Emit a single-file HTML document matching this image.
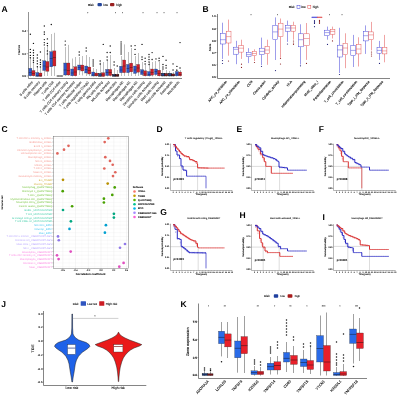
<!DOCTYPE html>
<html><head><meta charset="utf-8"><style>
html,body{margin:0;padding:0;background:#fff;width:400px;height:398px;overflow:hidden}
svg{display:block;will-change:transform}
text{font-family:"Liberation Sans", sans-serif;text-rendering:geometricPrecision}
</style></head><body>
<svg width="400" height="398" viewBox="0 0 400 398">
<rect width="400" height="398" fill="#fff"/>
<text x="1.6" y="11.6" font-size="8.5" fill="#000" font-weight="bold">A</text>
<line x1="28.5" y1="12" x2="28.5" y2="78.5" stroke="#777" stroke-width="0.8" />
<line x1="28.5" y1="78.5" x2="182" y2="78.5" stroke="#666" stroke-width="0.8" />
<line x1="26.6" y1="30.9" x2="28" y2="30.9" stroke="#555" stroke-width="0.45" />
<text x="25.9" y="31.9" font-size="2.7" fill="#000" text-anchor="end" font-weight="normal" stroke="#000" stroke-width="0.1">0.4</text>
<line x1="26.6" y1="53.7" x2="28" y2="53.7" stroke="#555" stroke-width="0.45" />
<text x="25.9" y="54.7" font-size="2.7" fill="#000" text-anchor="end" font-weight="normal" stroke="#000" stroke-width="0.1">0.2</text>
<line x1="26.6" y1="76.0" x2="28" y2="76.0" stroke="#555" stroke-width="0.45" />
<text x="25.9" y="77.0" font-size="2.7" fill="#000" text-anchor="end" font-weight="normal" stroke="#000" stroke-width="0.1">0.0</text>
<text x="19.6" y="50" font-size="2.8" fill="#000" text-anchor="middle" font-weight="normal" transform="rotate(-90 19.6 50)" stroke="#000" stroke-width="0.08">Fraction</text>
<text x="88" y="5.6" font-size="3" fill="#111" text-anchor="start" font-weight="normal"  stroke="#111" stroke-width="0.1">Risk</text>
<rect x="97.5" y="3.0" width="4.4" height="3.2" fill="#24459a" stroke="none" stroke-width="0.5" rx="1"/>
<text x="103.5" y="5.6" font-size="3" fill="#111" text-anchor="start" font-weight="normal"  stroke="#111" stroke-width="0.1">low</text>
<rect x="110" y="3.0" width="4.4" height="3.2" fill="#9a2020" stroke="none" stroke-width="0.5" rx="1"/>
<text x="116.3" y="5.6" font-size="3" fill="#111" text-anchor="start" font-weight="normal"  stroke="#111" stroke-width="0.1">high</text>
<line x1="30.5" y1="58" x2="30.5" y2="76.5" stroke="#a8a8a8" stroke-width="0.75" />
<rect x="28.799999999999997" y="68.3" width="3.1" height="7.5" fill="#2e55c8" stroke="#333" stroke-width="0.25" />
<line x1="28.799999999999997" y1="72.5" x2="31.9" y2="72.5" stroke="#111" stroke-width="0.35" />
<circle cx="30.349999999999998" cy="34.3" r="0.7" fill="#111"/>
<circle cx="30.349999999999998" cy="49.4" r="0.7" fill="#111"/>
<circle cx="30.349999999999998" cy="52.4" r="0.7" fill="#111"/>
<circle cx="30.349999999999998" cy="55.4" r="0.7" fill="#111"/>
<circle cx="30.349999999999998" cy="57.7" r="0.7" fill="#111"/>
<line x1="33.5" y1="62" x2="33.5" y2="76.5" stroke="#a8a8a8" stroke-width="0.75" />
<rect x="31.9" y="70.5" width="3.1" height="5.299999999999997" fill="#d11f2a" stroke="#333" stroke-width="0.25" />
<line x1="31.9" y1="73.5" x2="35.0" y2="73.5" stroke="#111" stroke-width="0.35" />
<circle cx="33.449999999999996" cy="43.4" r="0.7" fill="#111"/>
<circle cx="33.449999999999996" cy="50.2" r="0.7" fill="#111"/>
<circle cx="33.449999999999996" cy="52.8" r="0.7" fill="#111"/>
<circle cx="33.449999999999996" cy="55.4" r="0.7" fill="#111"/>
<circle cx="33.449999999999996" cy="58" r="0.7" fill="#111"/>
<circle cx="33.449999999999996" cy="60.2" r="0.7" fill="#111"/>
<circle cx="33.449999999999996" cy="62.2" r="0.7" fill="#111"/>
<text x="33.1" y="82.3" font-size="3.3" fill="#3a3a3a" text-anchor="end" font-weight="normal" transform="rotate(-49 33.1 82.3)"  stroke="#3a3a3a" stroke-width="0.1">B cells naive</text>
<line x1="37.5" y1="66" x2="37.5" y2="76.8" stroke="#a8a8a8" stroke-width="0.75" />
<rect x="35.779999999999994" y="72.5" width="3.1" height="4.0" fill="#2e55c8" stroke="#333" stroke-width="0.25" />
<line x1="35.779999999999994" y1="75.5" x2="38.879999999999995" y2="75.5" stroke="#111" stroke-width="0.35" />
<circle cx="37.32999999999999" cy="55" r="0.7" fill="#111"/>
<circle cx="37.32999999999999" cy="58" r="0.7" fill="#111"/>
<circle cx="37.32999999999999" cy="61" r="0.7" fill="#111"/>
<circle cx="37.32999999999999" cy="63.7" r="0.7" fill="#111"/>
<circle cx="37.32999999999999" cy="66.8" r="0.7" fill="#111"/>
<line x1="40.5" y1="68" x2="40.5" y2="76.8" stroke="#a8a8a8" stroke-width="0.75" />
<rect x="38.879999999999995" y="73" width="3.1" height="3.5" fill="#d11f2a" stroke="#333" stroke-width="0.25" />
<line x1="38.879999999999995" y1="75.5" x2="41.98" y2="75.5" stroke="#111" stroke-width="0.35" />
<circle cx="40.42999999999999" cy="52" r="0.7" fill="#111"/>
<circle cx="40.42999999999999" cy="60" r="0.7" fill="#111"/>
<circle cx="40.42999999999999" cy="62.5" r="0.7" fill="#111"/>
<circle cx="40.42999999999999" cy="64.5" r="0.7" fill="#111"/>
<circle cx="40.42999999999999" cy="67" r="0.7" fill="#111"/>
<text x="40.08" y="82.3" font-size="3.3" fill="#3a3a3a" text-anchor="end" font-weight="normal" transform="rotate(-49 40.08 82.3)"  stroke="#3a3a3a" stroke-width="0.1">B cells memory</text>
<line x1="44.5" y1="47" x2="44.5" y2="76" stroke="#a8a8a8" stroke-width="0.75" />
<rect x="42.76" y="60.7" width="3.1" height="9.799999999999997" fill="#2e55c8" stroke="#333" stroke-width="0.25" />
<line x1="42.76" y1="66" x2="45.86" y2="66" stroke="#111" stroke-width="0.35" />
<circle cx="44.309999999999995" cy="26" r="0.7" fill="#111"/>
<circle cx="44.309999999999995" cy="32" r="0.7" fill="#111"/>
<circle cx="44.309999999999995" cy="34.3" r="0.7" fill="#111"/>
<circle cx="44.309999999999995" cy="39.6" r="0.7" fill="#111"/>
<circle cx="44.309999999999995" cy="42.6" r="0.7" fill="#111"/>
<circle cx="44.309999999999995" cy="44.9" r="0.7" fill="#111"/>
<line x1="47.5" y1="45.6" x2="47.5" y2="76" stroke="#a8a8a8" stroke-width="0.75" />
<rect x="45.86" y="61.5" width="3.1" height="9.799999999999997" fill="#d11f2a" stroke="#333" stroke-width="0.25" />
<line x1="45.86" y1="67" x2="48.96" y2="67" stroke="#111" stroke-width="0.35" />
<circle cx="47.41" cy="38.9" r="0.7" fill="#111"/>
<circle cx="47.41" cy="43.4" r="0.7" fill="#111"/>
<circle cx="47.41" cy="45.6" r="0.7" fill="#111"/>
<circle cx="47.41" cy="50.9" r="0.7" fill="#111"/>
<circle cx="47.41" cy="53.9" r="0.7" fill="#111"/>
<text x="47.06" y="82.3" font-size="3.3" fill="#3a3a3a" text-anchor="end" font-weight="normal" transform="rotate(-49 47.06 82.3)"  stroke="#3a3a3a" stroke-width="0.1">Plasma cells</text>
<line x1="51.5" y1="34" x2="51.5" y2="76" stroke="#a8a8a8" stroke-width="0.75" />
<rect x="49.74" y="51.7" width="3.1" height="15.099999999999994" fill="#2e55c8" stroke="#333" stroke-width="0.25" />
<line x1="49.74" y1="58.5" x2="52.84" y2="58.5" stroke="#111" stroke-width="0.35" />
<circle cx="51.29" cy="24.5" r="0.7" fill="#111"/>
<line x1="54.5" y1="32.8" x2="54.5" y2="76" stroke="#a8a8a8" stroke-width="0.75" />
<rect x="52.84" y="50.9" width="3.1" height="15.100000000000001" fill="#d11f2a" stroke="#333" stroke-width="0.25" />
<line x1="52.84" y1="57.5" x2="55.940000000000005" y2="57.5" stroke="#111" stroke-width="0.35" />
<text x="54.040000000000006" y="82.3" font-size="3.3" fill="#3a3a3a" text-anchor="end" font-weight="normal" transform="rotate(-49 54.040000000000006 82.3)"  stroke="#3a3a3a" stroke-width="0.1">T cells CD8</text>
<line x1="58.5" y1="75.8" x2="58.5" y2="76.2" stroke="#a8a8a8" stroke-width="0.75" />
<line x1="56.72" y1="76" x2="59.82" y2="76" stroke="#111" stroke-width="0.9" />
<line x1="61.5" y1="75.8" x2="61.5" y2="76.2" stroke="#a8a8a8" stroke-width="0.75" />
<line x1="59.82" y1="76" x2="62.92" y2="76" stroke="#111" stroke-width="0.9" />
<text x="61.02" y="82.3" font-size="3.3" fill="#3a3a3a" text-anchor="end" font-weight="normal" transform="rotate(-49 61.02 82.3)"  stroke="#3a3a3a" stroke-width="0.1">T cells CD4 naive</text>
<line x1="65.5" y1="47" x2="65.5" y2="76" stroke="#a8a8a8" stroke-width="0.75" />
<rect x="63.70000000000001" y="63" width="3.1" height="12" fill="#2e55c8" stroke="#333" stroke-width="0.25" />
<line x1="63.70000000000001" y1="70" x2="66.80000000000001" y2="70" stroke="#111" stroke-width="0.35" />
<circle cx="65.25000000000001" cy="41.1" r="0.7" fill="#111"/>
<circle cx="65.25000000000001" cy="44.9" r="0.7" fill="#111"/>
<line x1="68.5" y1="44.9" x2="68.5" y2="76" stroke="#a8a8a8" stroke-width="0.75" />
<rect x="66.80000000000001" y="63" width="3.1" height="12" fill="#d11f2a" stroke="#333" stroke-width="0.25" />
<line x1="66.80000000000001" y1="70.5" x2="69.9" y2="70.5" stroke="#111" stroke-width="0.35" />
<text x="68.00000000000001" y="82.3" font-size="3.3" fill="#3a3a3a" text-anchor="end" font-weight="normal" transform="rotate(-49 68.00000000000001 82.3)"  stroke="#3a3a3a" stroke-width="0.1">T cells CD4 memory resting</text>
<line x1="72.5" y1="58.5" x2="72.5" y2="76.5" stroke="#a8a8a8" stroke-width="0.75" />
<rect x="70.68" y="69" width="3.1" height="6.799999999999997" fill="#2e55c8" stroke="#333" stroke-width="0.25" />
<line x1="70.68" y1="73" x2="73.78" y2="73" stroke="#111" stroke-width="0.35" />
<line x1="75.5" y1="57" x2="75.5" y2="76.5" stroke="#a8a8a8" stroke-width="0.75" />
<rect x="73.78" y="66.8" width="3.1" height="9.0" fill="#d11f2a" stroke="#333" stroke-width="0.25" />
<line x1="73.78" y1="72" x2="76.88" y2="72" stroke="#111" stroke-width="0.35" />
<text x="74.98" y="82.3" font-size="3.3" fill="#3a3a3a" text-anchor="end" font-weight="normal" transform="rotate(-49 74.98 82.3)"  stroke="#3a3a3a" stroke-width="0.1">T cells CD4 memory activated</text>
<line x1="79.5" y1="57" x2="79.5" y2="75" stroke="#a8a8a8" stroke-width="0.75" />
<rect x="77.66" y="65" width="3.1" height="5" fill="#2e55c8" stroke="#333" stroke-width="0.25" />
<line x1="77.66" y1="67.5" x2="80.75999999999999" y2="67.5" stroke="#111" stroke-width="0.35" />
<circle cx="79.21" cy="52" r="0.7" fill="#111"/>
<circle cx="79.21" cy="55" r="0.7" fill="#111"/>
<line x1="82.5" y1="56" x2="82.5" y2="75.5" stroke="#a8a8a8" stroke-width="0.75" />
<rect x="80.75999999999999" y="65" width="3.1" height="6" fill="#d11f2a" stroke="#333" stroke-width="0.25" />
<line x1="80.75999999999999" y1="68" x2="83.85999999999999" y2="68" stroke="#111" stroke-width="0.35" />
<text x="81.96" y="82.3" font-size="3.3" fill="#3a3a3a" text-anchor="end" font-weight="normal" transform="rotate(-49 81.96 82.3)"  stroke="#3a3a3a" stroke-width="0.1">T cells follicular helper</text>
<line x1="86.5" y1="55" x2="86.5" y2="76" stroke="#a8a8a8" stroke-width="0.75" />
<rect x="84.64000000000001" y="66" width="3.1" height="7" fill="#2e55c8" stroke="#333" stroke-width="0.25" />
<line x1="84.64000000000001" y1="69.5" x2="87.74000000000001" y2="69.5" stroke="#111" stroke-width="0.35" />
<circle cx="86.19000000000001" cy="48" r="0.7" fill="#111"/>
<circle cx="86.19000000000001" cy="51" r="0.7" fill="#111"/>
<line x1="89.5" y1="57" x2="89.5" y2="76" stroke="#a8a8a8" stroke-width="0.75" />
<rect x="87.74000000000001" y="67" width="3.1" height="7" fill="#d11f2a" stroke="#333" stroke-width="0.25" />
<line x1="87.74000000000001" y1="70.5" x2="90.84" y2="70.5" stroke="#111" stroke-width="0.35" />
<text x="88.94000000000001" y="82.3" font-size="3.3" fill="#3a3a3a" text-anchor="end" font-weight="normal" transform="rotate(-49 88.94000000000001 82.3)"  stroke="#3a3a3a" stroke-width="0.1">T cells regulatory (Tregs)</text>
<line x1="93.5" y1="68" x2="93.5" y2="76.5" stroke="#a8a8a8" stroke-width="0.75" />
<rect x="91.62" y="72" width="3.1" height="4" fill="#2e55c8" stroke="#333" stroke-width="0.25" />
<line x1="91.62" y1="75" x2="94.72" y2="75" stroke="#111" stroke-width="0.35" />
<circle cx="93.17" cy="60" r="0.7" fill="#111"/>
<circle cx="93.17" cy="62" r="0.7" fill="#111"/>
<circle cx="93.17" cy="64" r="0.7" fill="#111"/>
<circle cx="93.17" cy="66" r="0.7" fill="#111"/>
<line x1="96.5" y1="69" x2="96.5" y2="76.5" stroke="#a8a8a8" stroke-width="0.75" />
<rect x="94.72" y="73" width="3.1" height="3" fill="#d11f2a" stroke="#333" stroke-width="0.25" />
<line x1="94.72" y1="75" x2="97.82" y2="75" stroke="#111" stroke-width="0.35" />
<text x="95.92" y="82.3" font-size="3.3" fill="#3a3a3a" text-anchor="end" font-weight="normal" transform="rotate(-49 95.92 82.3)"  stroke="#3a3a3a" stroke-width="0.1">T cells gamma delta</text>
<line x1="100.5" y1="62.5" x2="100.5" y2="76.5" stroke="#a8a8a8" stroke-width="0.75" />
<rect x="98.60000000000002" y="73.7" width="3.1" height="2.5" fill="#2e55c8" stroke="#111" stroke-width="0.55" />
<line x1="98.60000000000002" y1="75" x2="101.70000000000002" y2="75" stroke="#111" stroke-width="0.6" />
<circle cx="100.15000000000002" cy="61" r="0.7" fill="#111"/>
<circle cx="100.15000000000002" cy="64" r="0.7" fill="#111"/>
<line x1="103.5" y1="62" x2="103.5" y2="76.5" stroke="#a8a8a8" stroke-width="0.75" />
<rect x="101.70000000000002" y="72.7" width="3.1" height="3.799999999999997" fill="#d11f2a" stroke="#333" stroke-width="0.25" />
<line x1="101.70000000000002" y1="75" x2="104.80000000000001" y2="75" stroke="#111" stroke-width="0.35" />
<circle cx="103.25000000000001" cy="44.4" r="0.7" fill="#111"/>
<text x="102.90000000000002" y="82.3" font-size="3.3" fill="#3a3a3a" text-anchor="end" font-weight="normal" transform="rotate(-49 102.90000000000002 82.3)"  stroke="#3a3a3a" stroke-width="0.1">NK cells resting</text>
<line x1="107.5" y1="60" x2="107.5" y2="76.5" stroke="#a8a8a8" stroke-width="0.75" />
<rect x="105.58000000000001" y="69.4" width="3.1" height="6.199999999999989" fill="#2e55c8" stroke="#333" stroke-width="0.25" />
<line x1="105.58000000000001" y1="72.5" x2="108.68" y2="72.5" stroke="#111" stroke-width="0.35" />
<circle cx="107.13000000000001" cy="52.5" r="0.7" fill="#111"/>
<circle cx="107.13000000000001" cy="57" r="0.7" fill="#111"/>
<circle cx="107.13000000000001" cy="60" r="0.7" fill="#111"/>
<line x1="110.5" y1="55" x2="110.5" y2="76.5" stroke="#a8a8a8" stroke-width="0.75" />
<rect x="108.68" y="69.4" width="3.1" height="6.199999999999989" fill="#d11f2a" stroke="#333" stroke-width="0.25" />
<line x1="108.68" y1="72.5" x2="111.78" y2="72.5" stroke="#111" stroke-width="0.35" />
<circle cx="110.23" cy="46" r="0.7" fill="#111"/>
<circle cx="110.23" cy="52.5" r="0.7" fill="#111"/>
<text x="109.88000000000001" y="82.3" font-size="3.3" fill="#3a3a3a" text-anchor="end" font-weight="normal" transform="rotate(-49 109.88000000000001 82.3)"  stroke="#3a3a3a" stroke-width="0.1">NK cells activated</text>
<line x1="114.5" y1="68" x2="114.5" y2="76.5" stroke="#a8a8a8" stroke-width="0.75" />
<rect x="112.56" y="74.4" width="3.1" height="1.7999999999999972" fill="#2e55c8" stroke="#111" stroke-width="0.55" />
<line x1="112.56" y1="75.5" x2="115.66" y2="75.5" stroke="#111" stroke-width="0.6" />
<circle cx="114.11" cy="62" r="0.7" fill="#111"/>
<circle cx="114.11" cy="65" r="0.7" fill="#111"/>
<line x1="117.5" y1="70" x2="117.5" y2="76.5" stroke="#a8a8a8" stroke-width="0.75" />
<rect x="115.66" y="74.4" width="3.1" height="1.7999999999999972" fill="#d11f2a" stroke="#111" stroke-width="0.55" />
<line x1="115.66" y1="75.5" x2="118.75999999999999" y2="75.5" stroke="#111" stroke-width="0.6" />
<circle cx="117.21" cy="66" r="0.7" fill="#111"/>
<text x="116.86" y="82.3" font-size="3.3" fill="#3a3a3a" text-anchor="end" font-weight="normal" transform="rotate(-49 116.86 82.3)"  stroke="#3a3a3a" stroke-width="0.1">Monocytes</text>
<line x1="121.5" y1="56" x2="121.5" y2="76" stroke="#a8a8a8" stroke-width="0.75" />
<rect x="119.54000000000002" y="66.2" width="3.1" height="6.5" fill="#2e55c8" stroke="#333" stroke-width="0.25" />
<line x1="119.54000000000002" y1="70" x2="122.64000000000001" y2="70" stroke="#111" stroke-width="0.35" />
<circle cx="121.09000000000002" cy="41.9" r="0.7" fill="#111"/>
<circle cx="121.09000000000002" cy="44" r="0.7" fill="#111"/>
<circle cx="121.09000000000002" cy="46" r="0.7" fill="#111"/>
<circle cx="121.09000000000002" cy="48" r="0.7" fill="#111"/>
<circle cx="121.09000000000002" cy="50" r="0.7" fill="#111"/>
<circle cx="121.09000000000002" cy="52" r="0.7" fill="#111"/>
<circle cx="121.09000000000002" cy="54" r="0.7" fill="#111"/>
<line x1="124.5" y1="44.4" x2="124.5" y2="76" stroke="#a8a8a8" stroke-width="0.75" />
<rect x="122.64000000000001" y="60" width="3.1" height="12.700000000000003" fill="#d11f2a" stroke="#333" stroke-width="0.25" />
<line x1="122.64000000000001" y1="66" x2="125.74000000000001" y2="66" stroke="#111" stroke-width="0.35" />
<text x="123.84000000000002" y="82.3" font-size="3.3" fill="#3a3a3a" text-anchor="end" font-weight="normal" transform="rotate(-49 123.84000000000002 82.3)"  stroke="#3a3a3a" stroke-width="0.1">Macrophages M0</text>
<line x1="128.5" y1="52" x2="128.5" y2="76" stroke="#a8a8a8" stroke-width="0.75" />
<rect x="126.52000000000001" y="64.4" width="3.1" height="8.299999999999997" fill="#2e55c8" stroke="#333" stroke-width="0.25" />
<line x1="126.52000000000001" y1="68.5" x2="129.62" y2="68.5" stroke="#111" stroke-width="0.35" />
<line x1="131.5" y1="48" x2="131.5" y2="76" stroke="#a8a8a8" stroke-width="0.75" />
<rect x="129.62" y="63.1" width="3.1" height="8.800000000000004" fill="#d11f2a" stroke="#333" stroke-width="0.25" />
<line x1="129.62" y1="67.5" x2="132.72" y2="67.5" stroke="#111" stroke-width="0.35" />
<circle cx="131.17000000000002" cy="46" r="0.7" fill="#111"/>
<text x="130.82" y="82.3" font-size="3.3" fill="#3a3a3a" text-anchor="end" font-weight="normal" transform="rotate(-49 130.82 82.3)"  stroke="#3a3a3a" stroke-width="0.1">Macrophages M1</text>
<line x1="135.5" y1="56" x2="135.5" y2="76" stroke="#a8a8a8" stroke-width="0.75" />
<rect x="133.5" y="66" width="3.1" height="7.5" fill="#2e55c8" stroke="#333" stroke-width="0.25" />
<line x1="133.5" y1="70" x2="136.6" y2="70" stroke="#111" stroke-width="0.35" />
<circle cx="135.05" cy="45.6" r="0.7" fill="#111"/>
<circle cx="135.05" cy="49.4" r="0.7" fill="#111"/>
<circle cx="135.05" cy="54.4" r="0.7" fill="#111"/>
<line x1="138.5" y1="53" x2="138.5" y2="76" stroke="#a8a8a8" stroke-width="0.75" />
<rect x="136.6" y="64.4" width="3.1" height="7.799999999999997" fill="#d11f2a" stroke="#333" stroke-width="0.25" />
<line x1="136.6" y1="68" x2="139.7" y2="68" stroke="#111" stroke-width="0.35" />
<text x="137.79999999999998" y="82.3" font-size="3.3" fill="#3a3a3a" text-anchor="end" font-weight="normal" transform="rotate(-49 137.79999999999998 82.3)"  stroke="#3a3a3a" stroke-width="0.1">Macrophages M2</text>
<line x1="142.5" y1="62" x2="142.5" y2="76" stroke="#a8a8a8" stroke-width="0.75" />
<rect x="140.48000000000002" y="69.6" width="3.1" height="5.0" fill="#2e55c8" stroke="#333" stroke-width="0.25" />
<line x1="140.48000000000002" y1="72" x2="143.58" y2="72" stroke="#111" stroke-width="0.35" />
<circle cx="142.03000000000003" cy="44.4" r="0.7" fill="#111"/>
<circle cx="142.03000000000003" cy="57" r="0.7" fill="#111"/>
<circle cx="142.03000000000003" cy="59.5" r="0.7" fill="#111"/>
<line x1="145.5" y1="65" x2="145.5" y2="76.5" stroke="#a8a8a8" stroke-width="0.75" />
<rect x="143.58" y="70.8" width="3.1" height="5.1000000000000085" fill="#d11f2a" stroke="#333" stroke-width="0.25" />
<line x1="143.58" y1="74" x2="146.68" y2="74" stroke="#111" stroke-width="0.35" />
<circle cx="145.13000000000002" cy="58.3" r="0.7" fill="#111"/>
<circle cx="145.13000000000002" cy="61.4" r="0.7" fill="#111"/>
<circle cx="145.13000000000002" cy="64" r="0.7" fill="#111"/>
<text x="144.78" y="82.3" font-size="3.3" fill="#3a3a3a" text-anchor="end" font-weight="normal" transform="rotate(-49 144.78 82.3)"  stroke="#3a3a3a" stroke-width="0.1">Dendritic cells resting</text>
<line x1="149.5" y1="62" x2="149.5" y2="76.5" stroke="#a8a8a8" stroke-width="0.75" />
<rect x="147.46" y="71.5" width="3.1" height="4.400000000000006" fill="#2e55c8" stroke="#333" stroke-width="0.25" />
<line x1="147.46" y1="74.5" x2="150.56" y2="74.5" stroke="#111" stroke-width="0.35" />
<circle cx="149.01000000000002" cy="54.5" r="0.7" fill="#111"/>
<circle cx="149.01000000000002" cy="57" r="0.7" fill="#111"/>
<circle cx="149.01000000000002" cy="59.5" r="0.7" fill="#111"/>
<circle cx="149.01000000000002" cy="62" r="0.7" fill="#111"/>
<circle cx="149.01000000000002" cy="64.5" r="0.7" fill="#111"/>
<line x1="152.5" y1="62" x2="152.5" y2="76.5" stroke="#a8a8a8" stroke-width="0.75" />
<rect x="150.56" y="69" width="3.1" height="6.200000000000003" fill="#d11f2a" stroke="#333" stroke-width="0.25" />
<line x1="150.56" y1="72.5" x2="153.66" y2="72.5" stroke="#111" stroke-width="0.35" />
<circle cx="152.11" cy="52.6" r="0.7" fill="#111"/>
<circle cx="152.11" cy="59.5" r="0.7" fill="#111"/>
<text x="151.76" y="82.3" font-size="3.3" fill="#3a3a3a" text-anchor="end" font-weight="normal" transform="rotate(-49 151.76 82.3)"  stroke="#3a3a3a" stroke-width="0.1">Dendritic cells activated</text>
<line x1="155.5" y1="61" x2="155.5" y2="76" stroke="#a8a8a8" stroke-width="0.75" />
<rect x="154.44000000000003" y="69" width="3.1" height="5.599999999999994" fill="#2e55c8" stroke="#333" stroke-width="0.25" />
<line x1="154.44000000000003" y1="71.5" x2="157.54000000000002" y2="71.5" stroke="#111" stroke-width="0.35" />
<circle cx="155.99000000000004" cy="58.9" r="0.7" fill="#111"/>
<line x1="159.5" y1="62" x2="159.5" y2="76.5" stroke="#a8a8a8" stroke-width="0.75" />
<rect x="157.54000000000002" y="70.2" width="3.1" height="5.700000000000003" fill="#d11f2a" stroke="#333" stroke-width="0.25" />
<line x1="157.54000000000002" y1="73.5" x2="160.64000000000001" y2="73.5" stroke="#111" stroke-width="0.35" />
<circle cx="159.09000000000003" cy="58.3" r="0.7" fill="#111"/>
<circle cx="159.09000000000003" cy="60.8" r="0.7" fill="#111"/>
<text x="158.74" y="82.3" font-size="3.3" fill="#3a3a3a" text-anchor="end" font-weight="normal" transform="rotate(-49 158.74 82.3)"  stroke="#3a3a3a" stroke-width="0.1">Mast cells resting</text>
<line x1="162.5" y1="70" x2="162.5" y2="76.5" stroke="#a8a8a8" stroke-width="0.75" />
<rect x="161.42000000000002" y="73.3" width="3.1" height="2.6000000000000085" fill="#2e55c8" stroke="#111" stroke-width="0.55" />
<line x1="161.42000000000002" y1="75" x2="164.52" y2="75" stroke="#111" stroke-width="0.6" />
<circle cx="162.97000000000003" cy="56.4" r="0.7" fill="#111"/>
<circle cx="162.97000000000003" cy="64.5" r="0.7" fill="#111"/>
<circle cx="162.97000000000003" cy="67" r="0.7" fill="#111"/>
<circle cx="162.97000000000003" cy="69" r="0.7" fill="#111"/>
<line x1="166.5" y1="70" x2="166.5" y2="76.5" stroke="#a8a8a8" stroke-width="0.75" />
<rect x="164.52" y="73.5" width="3.1" height="2.4000000000000057" fill="#d11f2a" stroke="#111" stroke-width="0.55" />
<line x1="164.52" y1="75" x2="167.62" y2="75" stroke="#111" stroke-width="0.6" />
<circle cx="166.07000000000002" cy="60.2" r="0.7" fill="#111"/>
<circle cx="166.07000000000002" cy="65.5" r="0.7" fill="#111"/>
<circle cx="166.07000000000002" cy="68" r="0.7" fill="#111"/>
<text x="165.72" y="82.3" font-size="3.3" fill="#3a3a3a" text-anchor="end" font-weight="normal" transform="rotate(-49 165.72 82.3)"  stroke="#3a3a3a" stroke-width="0.1">Mast cells activated</text>
<line x1="169.5" y1="71" x2="169.5" y2="76.5" stroke="#a8a8a8" stroke-width="0.75" />
<rect x="168.40000000000003" y="73.5" width="3.1" height="2.4000000000000057" fill="#2e55c8" stroke="#111" stroke-width="0.55" />
<line x1="168.40000000000003" y1="75" x2="171.50000000000003" y2="75" stroke="#111" stroke-width="0.6" />
<line x1="173.5" y1="72" x2="173.5" y2="76.5" stroke="#a8a8a8" stroke-width="0.75" />
<rect x="171.50000000000003" y="74" width="3.1" height="1.9000000000000057" fill="#d11f2a" stroke="#111" stroke-width="0.55" />
<line x1="171.50000000000003" y1="75.2" x2="174.60000000000002" y2="75.2" stroke="#111" stroke-width="0.6" />
<circle cx="173.05000000000004" cy="63.9" r="0.7" fill="#111"/>
<circle cx="173.05000000000004" cy="70" r="0.7" fill="#111"/>
<text x="172.70000000000002" y="82.3" font-size="3.3" fill="#3a3a3a" text-anchor="end" font-weight="normal" transform="rotate(-49 172.70000000000002 82.3)"  stroke="#3a3a3a" stroke-width="0.1">Eosinophils</text>
<line x1="176.5" y1="69" x2="176.5" y2="76.5" stroke="#a8a8a8" stroke-width="0.75" />
<rect x="175.38000000000002" y="71.5" width="3.1" height="4.400000000000006" fill="#2e55c8" stroke="#333" stroke-width="0.25" />
<line x1="175.38000000000002" y1="74" x2="178.48000000000002" y2="74" stroke="#111" stroke-width="0.35" />
<circle cx="176.93000000000004" cy="66.4" r="0.7" fill="#111"/>
<circle cx="176.93000000000004" cy="70.2" r="0.7" fill="#111"/>
<line x1="180.5" y1="70" x2="180.5" y2="76.5" stroke="#a8a8a8" stroke-width="0.75" />
<rect x="178.48000000000002" y="72" width="3.1" height="3.9000000000000057" fill="#d11f2a" stroke="#333" stroke-width="0.25" />
<line x1="178.48000000000002" y1="74.5" x2="181.58" y2="74.5" stroke="#111" stroke-width="0.35" />
<circle cx="180.03000000000003" cy="42.6" r="0.7" fill="#111"/>
<circle cx="180.03000000000003" cy="68" r="0.7" fill="#111"/>
<text x="179.68" y="82.3" font-size="3.3" fill="#3a3a3a" text-anchor="end" font-weight="normal" transform="rotate(-49 179.68 82.3)"  stroke="#3a3a3a" stroke-width="0.1">Neutrophils</text>
<text x="87.8" y="13.5" font-size="2.5" fill="#333" text-anchor="middle" font-weight="normal"  stroke="#333" stroke-width="0.1">*</text>
<text x="115.6" y="13.5" font-size="2.5" fill="#333" text-anchor="middle" font-weight="normal"  stroke="#333" stroke-width="0.1">*</text>
<text x="122.5" y="13.5" font-size="2.5" fill="#333" text-anchor="middle" font-weight="normal"  stroke="#333" stroke-width="0.1">*</text>
<text x="143" y="13.5" font-size="2.5" fill="#333" text-anchor="middle" font-weight="normal"  stroke="#333" stroke-width="0.1">*</text>
<text x="157" y="13.5" font-size="2.5" fill="#333" text-anchor="middle" font-weight="normal"  stroke="#333" stroke-width="0.1">*</text>
<text x="164" y="13.5" font-size="2.5" fill="#333" text-anchor="middle" font-weight="normal"  stroke="#333" stroke-width="0.1">*</text>
<text x="177" y="13.5" font-size="2.5" fill="#333" text-anchor="middle" font-weight="normal"  stroke="#333" stroke-width="0.1">*</text>
<text x="202.6" y="11.6" font-size="8.5" fill="#000" font-weight="bold">B</text>
<line x1="217.5" y1="14" x2="217.5" y2="78.5" stroke="#666" stroke-width="0.8" />
<line x1="217.5" y1="78.5" x2="390" y2="78.5" stroke="#666" stroke-width="0.8" />
<line x1="216.3" y1="16.4" x2="217.5" y2="16.4" stroke="#555" stroke-width="0.45" />
<text x="215.8" y="17.4" font-size="2.7" fill="#000" text-anchor="end" font-weight="normal" stroke="#000" stroke-width="0.1">1.0</text>
<line x1="216.3" y1="28.7" x2="217.5" y2="28.7" stroke="#555" stroke-width="0.45" />
<text x="215.8" y="29.7" font-size="2.7" fill="#000" text-anchor="end" font-weight="normal" stroke="#000" stroke-width="0.1">0.9</text>
<line x1="216.3" y1="40.8" x2="217.5" y2="40.8" stroke="#555" stroke-width="0.45" />
<text x="215.8" y="41.8" font-size="2.7" fill="#000" text-anchor="end" font-weight="normal" stroke="#000" stroke-width="0.1">0.8</text>
<line x1="216.3" y1="52.5" x2="217.5" y2="52.5" stroke="#555" stroke-width="0.45" />
<text x="215.8" y="53.5" font-size="2.7" fill="#000" text-anchor="end" font-weight="normal" stroke="#000" stroke-width="0.1">0.7</text>
<line x1="216.3" y1="64.8" x2="217.5" y2="64.8" stroke="#555" stroke-width="0.45" />
<text x="215.8" y="65.8" font-size="2.7" fill="#000" text-anchor="end" font-weight="normal" stroke="#000" stroke-width="0.1">0.6</text>
<line x1="216.3" y1="76.9" x2="217.5" y2="76.9" stroke="#555" stroke-width="0.45" />
<text x="215.8" y="77.9" font-size="2.7" fill="#000" text-anchor="end" font-weight="normal" stroke="#000" stroke-width="0.1">0.5</text>
<text x="210.5" y="47.5" font-size="2.9" fill="#000" text-anchor="middle" font-weight="normal" transform="rotate(-90 210.5 47.5)" stroke="#000" stroke-width="0.08">Score</text>
<text x="288.7" y="7.9" font-size="3" fill="#111" text-anchor="start" font-weight="normal"  stroke="#111" stroke-width="0.1">Risk</text>
<rect x="297" y="5.3" width="3" height="3" fill="#fff" stroke="#3b3bd6" stroke-width="0.5" />
<text x="301.2" y="7.9" font-size="3" fill="#111" text-anchor="start" font-weight="normal"  stroke="#111" stroke-width="0.1">low</text>
<rect x="307.8" y="5.3" width="3" height="3" fill="#fff" stroke="#e04848" stroke-width="0.5" />
<text x="312.7" y="7.9" font-size="3" fill="#111" text-anchor="start" font-weight="normal"  stroke="#111" stroke-width="0.1">high</text>
<line x1="222.5" y1="22.7" x2="222.5" y2="33.4" stroke="#3b3bd6" stroke-width="0.5" />
<line x1="222.5" y1="44" x2="222.5" y2="58.9" stroke="#3b3bd6" stroke-width="0.5" />
<rect x="220.3" y="33.4" width="5.299999999999983" height="10.600000000000001" fill="#fff" stroke="#3b3bd6" stroke-width="0.45" />
<line x1="220.3" y1="39.7" x2="225.6" y2="39.7" stroke="#3b3bd6" stroke-width="0.45" />
<circle cx="222.5" cy="60.6" r="0.6" fill="#22227a"/>
<circle cx="222.5" cy="63.5" r="0.6" fill="#22227a"/>
<line x1="228.5" y1="19.6" x2="228.5" y2="31.2" stroke="#e04848" stroke-width="0.5" />
<line x1="228.5" y1="43" x2="228.5" y2="55.7" stroke="#e04848" stroke-width="0.5" />
<rect x="226.3" y="31.2" width="4.699999999999989" height="11.8" fill="#fff" stroke="#e04848" stroke-width="0.45" />
<line x1="226.3" y1="36.6" x2="231" y2="36.6" stroke="#e04848" stroke-width="0.45" />
<circle cx="228.5" cy="61" r="0.6" fill="#8a2020"/>
<text x="227.15" y="81.8" font-size="3.3" fill="#000" text-anchor="end" font-weight="normal" transform="rotate(-49 227.15 81.8)"  stroke="#000" stroke-width="0.1">APC_co_inhibition</text>
<line x1="236.5" y1="40.8" x2="236.5" y2="47.2" stroke="#3b3bd6" stroke-width="0.5" />
<line x1="236.5" y1="54.2" x2="236.5" y2="64.2" stroke="#3b3bd6" stroke-width="0.5" />
<rect x="233.7" y="47.2" width="4.700000000000017" height="7.0" fill="#fff" stroke="#3b3bd6" stroke-width="0.45" />
<line x1="233.7" y1="49.3" x2="238.4" y2="49.3" stroke="#3b3bd6" stroke-width="0.45" />
<line x1="241.5" y1="39.7" x2="241.5" y2="45.7" stroke="#e04848" stroke-width="0.5" />
<line x1="241.5" y1="52.1" x2="241.5" y2="58.9" stroke="#e04848" stroke-width="0.5" />
<rect x="238.8" y="45.7" width="4.899999999999977" height="6.399999999999999" fill="#fff" stroke="#e04848" stroke-width="0.45" />
<line x1="238.8" y1="48.2" x2="243.7" y2="48.2" stroke="#e04848" stroke-width="0.45" />
<circle cx="241.5" cy="64.2" r="0.6" fill="#8a2020"/>
<circle cx="241.5" cy="67.4" r="0.6" fill="#8a2020"/>
<text x="240.2" y="81.8" font-size="3.3" fill="#000" text-anchor="end" font-weight="normal" transform="rotate(-49 240.2 81.8)"  stroke="#000" stroke-width="0.1">APC_co_stimulation</text>
<line x1="248.5" y1="48.2" x2="248.5" y2="52.5" stroke="#3b3bd6" stroke-width="0.5" />
<line x1="248.5" y1="56.7" x2="248.5" y2="63.1" stroke="#3b3bd6" stroke-width="0.5" />
<rect x="246.4" y="52.5" width="4.699999999999989" height="4.200000000000003" fill="#fff" stroke="#3b3bd6" stroke-width="0.45" />
<line x1="246.4" y1="54.6" x2="251.1" y2="54.6" stroke="#3b3bd6" stroke-width="0.45" />
<line x1="254.5" y1="49.3" x2="254.5" y2="51.4" stroke="#e04848" stroke-width="0.5" />
<line x1="254.5" y1="55.7" x2="254.5" y2="61" stroke="#e04848" stroke-width="0.5" />
<rect x="252.2" y="51.4" width="4.199999999999989" height="4.300000000000004" fill="#fff" stroke="#e04848" stroke-width="0.45" />
<line x1="252.2" y1="53.5" x2="256.4" y2="53.5" stroke="#e04848" stroke-width="0.45" />
<circle cx="254.5" cy="62.5" r="0.6" fill="#8a2020"/>
<text x="252.89999999999998" y="81.8" font-size="3.3" fill="#000" text-anchor="end" font-weight="normal" transform="rotate(-49 252.89999999999998 81.8)"  stroke="#000" stroke-width="0.1">CCR</text>
<line x1="261.5" y1="37.6" x2="261.5" y2="48.2" stroke="#3b3bd6" stroke-width="0.5" />
<line x1="261.5" y1="54.6" x2="261.5" y2="65.2" stroke="#3b3bd6" stroke-width="0.5" />
<rect x="259.6" y="48.2" width="4.699999999999989" height="6.399999999999999" fill="#fff" stroke="#3b3bd6" stroke-width="0.45" />
<line x1="259.6" y1="51.4" x2="264.3" y2="51.4" stroke="#3b3bd6" stroke-width="0.45" />
<circle cx="261.5" cy="66.5" r="0.6" fill="#22227a"/>
<line x1="267.5" y1="39.7" x2="267.5" y2="46.5" stroke="#e04848" stroke-width="0.5" />
<line x1="267.5" y1="53.6" x2="267.5" y2="64.8" stroke="#e04848" stroke-width="0.5" />
<rect x="265" y="46.5" width="4.199999999999989" height="7.100000000000001" fill="#fff" stroke="#e04848" stroke-width="0.45" />
<line x1="265" y1="50" x2="269.2" y2="50" stroke="#e04848" stroke-width="0.45" />
<text x="265.9" y="81.8" font-size="3.3" fill="#000" text-anchor="end" font-weight="normal" transform="rotate(-49 265.9 81.8)"  stroke="#000" stroke-width="0.1">Check-point</text>
<line x1="275.5" y1="17.4" x2="275.5" y2="25.3" stroke="#3b3bd6" stroke-width="0.5" />
<line x1="275.5" y1="39.7" x2="275.5" y2="60" stroke="#3b3bd6" stroke-width="0.5" />
<rect x="272.8" y="25.3" width="4.899999999999977" height="14.400000000000002" fill="#fff" stroke="#3b3bd6" stroke-width="0.45" />
<line x1="272.8" y1="31.9" x2="277.7" y2="31.9" stroke="#3b3bd6" stroke-width="0.45" />
<circle cx="275.5" cy="70.6" r="0.6" fill="#22227a"/>
<line x1="280.5" y1="18.5" x2="280.5" y2="23.2" stroke="#e04848" stroke-width="0.5" />
<line x1="280.5" y1="36.6" x2="280.5" y2="57.8" stroke="#e04848" stroke-width="0.5" />
<rect x="278.3" y="23.2" width="4.699999999999989" height="13.400000000000002" fill="#fff" stroke="#e04848" stroke-width="0.45" />
<line x1="278.3" y1="29.1" x2="283" y2="29.1" stroke="#e04848" stroke-width="0.45" />
<circle cx="280.5" cy="58.5" r="0.6" fill="#8a2020"/>
<circle cx="280.5" cy="64" r="0.6" fill="#8a2020"/>
<text x="279.4" y="81.8" font-size="3.3" fill="#000" text-anchor="end" font-weight="normal" transform="rotate(-49 279.4 81.8)"  stroke="#000" stroke-width="0.1">Cytolytic_activity</text>
<line x1="287.5" y1="20.6" x2="287.5" y2="25.3" stroke="#3b3bd6" stroke-width="0.5" />
<line x1="287.5" y1="31.2" x2="287.5" y2="41.9" stroke="#3b3bd6" stroke-width="0.5" />
<rect x="285.5" y="25.3" width="4.899999999999977" height="5.899999999999999" fill="#fff" stroke="#3b3bd6" stroke-width="0.45" />
<line x1="285.5" y1="28" x2="290.4" y2="28" stroke="#3b3bd6" stroke-width="0.45" />
<circle cx="287.5" cy="44" r="0.6" fill="#22227a"/>
<line x1="293.5" y1="21.7" x2="293.5" y2="25.3" stroke="#e04848" stroke-width="0.5" />
<line x1="293.5" y1="31.2" x2="293.5" y2="39.7" stroke="#e04848" stroke-width="0.5" />
<rect x="291" y="25.3" width="4.699999999999989" height="5.899999999999999" fill="#fff" stroke="#e04848" stroke-width="0.45" />
<line x1="291" y1="28" x2="295.7" y2="28" stroke="#e04848" stroke-width="0.45" />
<circle cx="293.5" cy="41" r="0.6" fill="#8a2020"/>
<circle cx="293.5" cy="43" r="0.6" fill="#8a2020"/>
<circle cx="293.5" cy="44.5" r="0.6" fill="#8a2020"/>
<text x="292.1" y="81.8" font-size="3.3" fill="#000" text-anchor="end" font-weight="normal" transform="rotate(-49 292.1 81.8)"  stroke="#000" stroke-width="0.1">HLA</text>
<line x1="300.5" y1="24.3" x2="300.5" y2="33.8" stroke="#3b3bd6" stroke-width="0.5" />
<line x1="300.5" y1="46.8" x2="300.5" y2="64.6" stroke="#3b3bd6" stroke-width="0.5" />
<rect x="298.6" y="33.8" width="4.699999999999989" height="13.0" fill="#fff" stroke="#3b3bd6" stroke-width="0.45" />
<line x1="298.6" y1="39.7" x2="303.3" y2="39.7" stroke="#3b3bd6" stroke-width="0.45" />
<circle cx="300.5" cy="65.8" r="0.6" fill="#22227a"/>
<line x1="306.5" y1="23" x2="306.5" y2="33.8" stroke="#e04848" stroke-width="0.5" />
<line x1="306.5" y1="45.6" x2="306.5" y2="59.9" stroke="#e04848" stroke-width="0.5" />
<rect x="303.8" y="33.8" width="5.5" height="11.800000000000004" fill="#fff" stroke="#e04848" stroke-width="0.45" />
<line x1="303.8" y1="38.5" x2="309.3" y2="38.5" stroke="#e04848" stroke-width="0.45" />
<circle cx="306.5" cy="63.4" r="0.6" fill="#8a2020"/>
<text x="305.45000000000005" y="81.8" font-size="3.3" fill="#000" text-anchor="end" font-weight="normal" transform="rotate(-49 305.45000000000005 81.8)"  stroke="#000" stroke-width="0.1">Inflammation-promoting</text>
<line x1="314.5" y1="17.0" x2="314.5" y2="17.0" stroke="#3b3bd6" stroke-width="0.5" />
<line x1="314.5" y1="17.8" x2="314.5" y2="17.8" stroke="#3b3bd6" stroke-width="0.5" />
<rect x="311.9" y="17.0" width="5.5" height="0.8000000000000007" fill="#fff" stroke="#3b3bd6" stroke-width="0.45" />
<line x1="311.9" y1="17.4" x2="317.4" y2="17.4" stroke="#3b3bd6" stroke-width="0.45" />
<circle cx="314.5" cy="20.7" r="0.6" fill="#22227a"/>
<circle cx="314.5" cy="21.6" r="0.6" fill="#22227a"/>
<circle cx="314.5" cy="22.5" r="0.6" fill="#22227a"/>
<circle cx="314.5" cy="23.4" r="0.6" fill="#22227a"/>
<circle cx="314.5" cy="26.7" r="0.6" fill="#22227a"/>
<line x1="319.5" y1="17.0" x2="319.5" y2="17.0" stroke="#e04848" stroke-width="0.5" />
<line x1="319.5" y1="17.8" x2="319.5" y2="17.8" stroke="#e04848" stroke-width="0.5" />
<rect x="317.6" y="17.0" width="4.399999999999977" height="0.8000000000000007" fill="#fff" stroke="#e04848" stroke-width="0.45" />
<line x1="317.6" y1="17.4" x2="322" y2="17.4" stroke="#e04848" stroke-width="0.45" />
<circle cx="319.5" cy="20.4" r="0.6" fill="#8a2020"/>
<circle cx="319.5" cy="21.3" r="0.6" fill="#8a2020"/>
<circle cx="319.5" cy="22.2" r="0.6" fill="#8a2020"/>
<circle cx="319.5" cy="23.3" r="0.6" fill="#8a2020"/>
<text x="318.45" y="81.8" font-size="3.3" fill="#000" text-anchor="end" font-weight="normal" transform="rotate(-49 318.45 81.8)"  stroke="#000" stroke-width="0.1">MHC_class_I</text>
<line x1="327.5" y1="26.6" x2="327.5" y2="30.2" stroke="#3b3bd6" stroke-width="0.5" />
<line x1="327.5" y1="35.7" x2="327.5" y2="39.7" stroke="#3b3bd6" stroke-width="0.5" />
<rect x="324.7" y="30.2" width="4.699999999999989" height="5.5000000000000036" fill="#fff" stroke="#3b3bd6" stroke-width="0.45" />
<line x1="324.7" y1="32.6" x2="329.4" y2="32.6" stroke="#3b3bd6" stroke-width="0.45" />
<circle cx="327.5" cy="44.4" r="0.6" fill="#22227a"/>
<line x1="332.5" y1="26.6" x2="332.5" y2="29.5" stroke="#e04848" stroke-width="0.5" />
<line x1="332.5" y1="34.2" x2="332.5" y2="38.5" stroke="#e04848" stroke-width="0.5" />
<rect x="330.2" y="29.5" width="4.699999999999989" height="4.700000000000003" fill="#fff" stroke="#e04848" stroke-width="0.45" />
<line x1="330.2" y1="31.4" x2="334.9" y2="31.4" stroke="#e04848" stroke-width="0.45" />
<circle cx="332.5" cy="40.9" r="0.6" fill="#8a2020"/>
<text x="331.29999999999995" y="81.8" font-size="3.3" fill="#000" text-anchor="end" font-weight="normal" transform="rotate(-49 331.29999999999995 81.8)"  stroke="#000" stroke-width="0.1">Parainflammation</text>
<line x1="339.5" y1="27.8" x2="339.5" y2="45.2" stroke="#3b3bd6" stroke-width="0.5" />
<line x1="339.5" y1="57" x2="339.5" y2="73" stroke="#3b3bd6" stroke-width="0.5" />
<rect x="337.3" y="45.2" width="5.199999999999989" height="11.799999999999997" fill="#fff" stroke="#3b3bd6" stroke-width="0.45" />
<line x1="337.3" y1="49.9" x2="342.5" y2="49.9" stroke="#3b3bd6" stroke-width="0.45" />
<circle cx="339.5" cy="74.5" r="0.6" fill="#22227a"/>
<line x1="345.5" y1="33.3" x2="345.5" y2="43.3" stroke="#e04848" stroke-width="0.5" />
<line x1="345.5" y1="54.7" x2="345.5" y2="68.2" stroke="#e04848" stroke-width="0.5" />
<rect x="343" y="43.3" width="4.699999999999989" height="11.400000000000006" fill="#fff" stroke="#e04848" stroke-width="0.45" />
<line x1="343" y1="48" x2="347.7" y2="48" stroke="#e04848" stroke-width="0.45" />
<text x="344.0" y="81.8" font-size="3.3" fill="#000" text-anchor="end" font-weight="normal" transform="rotate(-49 344.0 81.8)"  stroke="#000" stroke-width="0.1">T_cell_co-inhibition</text>
<line x1="353.5" y1="34.9" x2="353.5" y2="45.6" stroke="#3b3bd6" stroke-width="0.5" />
<line x1="353.5" y1="55.6" x2="353.5" y2="67" stroke="#3b3bd6" stroke-width="0.5" />
<rect x="350.8" y="45.6" width="4.800000000000011" height="10.0" fill="#fff" stroke="#3b3bd6" stroke-width="0.45" />
<line x1="350.8" y1="50.4" x2="355.6" y2="50.4" stroke="#3b3bd6" stroke-width="0.45" />
<line x1="358.5" y1="37.3" x2="358.5" y2="44.4" stroke="#e04848" stroke-width="0.5" />
<line x1="358.5" y1="53.9" x2="358.5" y2="66.5" stroke="#e04848" stroke-width="0.5" />
<rect x="356.3" y="44.4" width="4.699999999999989" height="9.5" fill="#fff" stroke="#e04848" stroke-width="0.45" />
<line x1="356.3" y1="49" x2="361" y2="49" stroke="#e04848" stroke-width="0.45" />
<text x="357.4" y="81.8" font-size="3.3" fill="#000" text-anchor="end" font-weight="normal" transform="rotate(-49 357.4 81.8)"  stroke="#000" stroke-width="0.1">T_cell_co-stimulation</text>
<line x1="365.5" y1="25.4" x2="365.5" y2="31.4" stroke="#3b3bd6" stroke-width="0.5" />
<line x1="365.5" y1="40.9" x2="365.5" y2="53.9" stroke="#3b3bd6" stroke-width="0.5" />
<rect x="363.4" y="31.4" width="4.800000000000011" height="9.5" fill="#fff" stroke="#3b3bd6" stroke-width="0.45" />
<line x1="363.4" y1="35.7" x2="368.2" y2="35.7" stroke="#3b3bd6" stroke-width="0.45" />
<line x1="371.5" y1="21.9" x2="371.5" y2="31.9" stroke="#e04848" stroke-width="0.5" />
<line x1="371.5" y1="39.7" x2="371.5" y2="50.4" stroke="#e04848" stroke-width="0.5" />
<rect x="368.6" y="31.9" width="4.7999999999999545" height="7.800000000000004" fill="#fff" stroke="#e04848" stroke-width="0.45" />
<line x1="368.6" y1="34.9" x2="373.4" y2="34.9" stroke="#e04848" stroke-width="0.45" />
<circle cx="371.5" cy="52" r="0.6" fill="#8a2020"/>
<circle cx="371.5" cy="54" r="0.6" fill="#8a2020"/>
<circle cx="371.5" cy="56" r="0.6" fill="#8a2020"/>
<text x="369.9" y="81.8" font-size="3.3" fill="#000" text-anchor="end" font-weight="normal" transform="rotate(-49 369.9 81.8)"  stroke="#000" stroke-width="0.1">Type_I_IFN_Reponse</text>
<line x1="379.5" y1="40.9" x2="379.5" y2="47.5" stroke="#3b3bd6" stroke-width="0.5" />
<line x1="379.5" y1="53.2" x2="379.5" y2="59.9" stroke="#3b3bd6" stroke-width="0.5" />
<rect x="377" y="47.5" width="4.699999999999989" height="5.700000000000003" fill="#fff" stroke="#3b3bd6" stroke-width="0.45" />
<line x1="377" y1="50.4" x2="381.7" y2="50.4" stroke="#3b3bd6" stroke-width="0.45" />
<circle cx="379.5" cy="63.4" r="0.6" fill="#22227a"/>
<line x1="384.5" y1="34.9" x2="384.5" y2="47.5" stroke="#e04848" stroke-width="0.5" />
<line x1="384.5" y1="53.9" x2="384.5" y2="62.3" stroke="#e04848" stroke-width="0.5" />
<rect x="382.2" y="47.5" width="4.699999999999989" height="6.399999999999999" fill="#fff" stroke="#e04848" stroke-width="0.45" />
<line x1="382.2" y1="50.9" x2="386.9" y2="50.9" stroke="#e04848" stroke-width="0.45" />
<text x="383.45" y="81.8" font-size="3.3" fill="#000" text-anchor="end" font-weight="normal" transform="rotate(-49 383.45 81.8)"  stroke="#000" stroke-width="0.1">Type_II_IFN_Reponse</text>
<text x="251" y="15.5" font-size="2.5" fill="#333" text-anchor="middle" font-weight="normal"  stroke="#333" stroke-width="0.1">*</text>
<text x="277.5" y="15.5" font-size="2.5" fill="#333" text-anchor="middle" font-weight="normal"  stroke="#333" stroke-width="0.1">*</text>
<text x="329.5" y="15.5" font-size="2.5" fill="#333" text-anchor="middle" font-weight="normal"  stroke="#333" stroke-width="0.1">*</text>
<text x="342" y="15.5" font-size="2.5" fill="#333" text-anchor="middle" font-weight="normal"  stroke="#333" stroke-width="0.1">*</text>
<text x="1.6" y="131.8" font-size="8.5" fill="#000" font-weight="bold">C</text>
<rect x="53.5" y="136.5" width="75.0" height="132.0" fill="#fff" stroke="none" stroke-width="0.5" />
<line x1="62.8" y1="136.5" x2="62.8" y2="268.5" stroke="#e6e6e6" stroke-width="0.35" />
<line x1="69.15" y1="136.5" x2="69.15" y2="268.5" stroke="#f2f2f2" stroke-width="0.25" />
<line x1="75.5" y1="136.5" x2="75.5" y2="268.5" stroke="#e6e6e6" stroke-width="0.35" />
<line x1="81.9" y1="136.5" x2="81.9" y2="268.5" stroke="#f2f2f2" stroke-width="0.25" />
<line x1="88.3" y1="136.5" x2="88.3" y2="268.5" stroke="#e6e6e6" stroke-width="0.35" />
<line x1="94.65" y1="136.5" x2="94.65" y2="268.5" stroke="#f2f2f2" stroke-width="0.25" />
<line x1="101.0" y1="136.5" x2="101.0" y2="268.5" stroke="#e6e6e6" stroke-width="0.35" />
<line x1="107.4" y1="136.5" x2="107.4" y2="268.5" stroke="#f2f2f2" stroke-width="0.25" />
<line x1="113.8" y1="136.5" x2="113.8" y2="268.5" stroke="#e6e6e6" stroke-width="0.35" />
<line x1="120.15" y1="136.5" x2="120.15" y2="268.5" stroke="#f2f2f2" stroke-width="0.25" />
<line x1="126.5" y1="136.5" x2="126.5" y2="268.5" stroke="#e6e6e6" stroke-width="0.35" />
<line x1="53.5" y1="138.3" x2="128.5" y2="138.3" stroke="#ececec" stroke-width="0.3" />
<line x1="52.3" y1="138.3" x2="53.5" y2="138.3" stroke="#555" stroke-width="0.3" />
<text x="52" y="139.25" font-size="2.6" fill="#f59890" text-anchor="end">T cell CD4+ memory a_XCELL</text>
<line x1="53.5" y1="142.07500000000002" x2="128.5" y2="142.07500000000002" stroke="#ececec" stroke-width="0.3" />
<line x1="52.3" y1="142.07500000000002" x2="53.5" y2="142.07500000000002" stroke="#555" stroke-width="0.3" />
<text x="52" y="143.03" font-size="2.6" fill="#f59890" text-anchor="end">Endothelial_XCELL</text>
<line x1="53.5" y1="145.85000000000002" x2="128.5" y2="145.85000000000002" stroke="#ececec" stroke-width="0.3" />
<line x1="52.3" y1="145.85000000000002" x2="53.5" y2="145.85000000000002" stroke="#555" stroke-width="0.3" />
<text x="52" y="146.80" font-size="2.6" fill="#f59890" text-anchor="end">B cell n_XCELL</text>
<line x1="53.5" y1="149.625" x2="128.5" y2="149.625" stroke="#ececec" stroke-width="0.3" />
<line x1="52.3" y1="149.625" x2="53.5" y2="149.625" stroke="#555" stroke-width="0.3" />
<text x="52" y="150.57" font-size="2.6" fill="#f59890" text-anchor="end">Common lymphoid pr _XCELL</text>
<line x1="53.5" y1="153.4" x2="128.5" y2="153.4" stroke="#ececec" stroke-width="0.3" />
<line x1="52.3" y1="153.4" x2="53.5" y2="153.4" stroke="#555" stroke-width="0.3" />
<text x="52" y="154.35" font-size="2.6" fill="#f59890" text-anchor="end">Hematopoietic ste _XCELL</text>
<line x1="53.5" y1="157.175" x2="128.5" y2="157.175" stroke="#ececec" stroke-width="0.3" />
<line x1="52.3" y1="157.175" x2="53.5" y2="157.175" stroke="#555" stroke-width="0.3" />
<text x="52" y="158.12" font-size="2.6" fill="#f59890" text-anchor="end">Macrophage_XCELL</text>
<line x1="53.5" y1="160.95000000000002" x2="128.5" y2="160.95000000000002" stroke="#ececec" stroke-width="0.3" />
<line x1="52.3" y1="160.95000000000002" x2="53.5" y2="160.95000000000002" stroke="#555" stroke-width="0.3" />
<text x="52" y="161.90" font-size="2.6" fill="#f59890" text-anchor="end">NK ce_XCELL</text>
<line x1="53.5" y1="164.72500000000002" x2="128.5" y2="164.72500000000002" stroke="#ececec" stroke-width="0.3" />
<line x1="52.3" y1="164.72500000000002" x2="53.5" y2="164.72500000000002" stroke="#555" stroke-width="0.3" />
<text x="52" y="165.68" font-size="2.6" fill="#f59890" text-anchor="end">Monoc_XCELL</text>
<line x1="53.5" y1="168.5" x2="128.5" y2="168.5" stroke="#ececec" stroke-width="0.3" />
<line x1="52.3" y1="168.5" x2="53.5" y2="168.5" stroke="#555" stroke-width="0.3" />
<text x="52" y="169.45" font-size="2.6" fill="#f59890" text-anchor="end">T cell C_XCELL</text>
<line x1="53.5" y1="172.275" x2="128.5" y2="172.275" stroke="#ececec" stroke-width="0.3" />
<line x1="52.3" y1="172.275" x2="53.5" y2="172.275" stroke="#555" stroke-width="0.3" />
<text x="52" y="173.22" font-size="2.6" fill="#f59890" text-anchor="end">Mast ce_XCELL</text>
<line x1="53.5" y1="176.05" x2="128.5" y2="176.05" stroke="#ececec" stroke-width="0.3" />
<line x1="52.3" y1="176.05" x2="53.5" y2="176.05" stroke="#555" stroke-width="0.3" />
<text x="52" y="177.00" font-size="2.6" fill="#f59890" text-anchor="end">Granulocyte-monocy_XCELL</text>
<line x1="53.5" y1="179.82500000000002" x2="128.5" y2="179.82500000000002" stroke="#ececec" stroke-width="0.3" />
<line x1="52.3" y1="179.82500000000002" x2="53.5" y2="179.82500000000002" stroke="#555" stroke-width="0.3" />
<text x="52" y="180.78" font-size="2.6" fill="#d4b040" text-anchor="end">B c_TIMER</text>
<line x1="53.5" y1="183.60000000000002" x2="128.5" y2="183.60000000000002" stroke="#ececec" stroke-width="0.3" />
<line x1="52.3" y1="183.60000000000002" x2="53.5" y2="183.60000000000002" stroke="#555" stroke-width="0.3" />
<text x="52" y="184.55" font-size="2.6" fill="#d4b040" text-anchor="end">Macrop_TIMER</text>
<line x1="53.5" y1="187.375" x2="128.5" y2="187.375" stroke="#ececec" stroke-width="0.3" />
<line x1="52.3" y1="187.375" x2="53.5" y2="187.375" stroke="#555" stroke-width="0.3" />
<text x="52" y="188.32" font-size="2.6" fill="#78c440" text-anchor="end">Macrophag_QUANTISEQ</text>
<line x1="53.5" y1="191.15" x2="128.5" y2="191.15" stroke="#ececec" stroke-width="0.3" />
<line x1="52.3" y1="191.15" x2="53.5" y2="191.15" stroke="#555" stroke-width="0.3" />
<text x="52" y="192.10" font-size="2.6" fill="#78c440" text-anchor="end">Monocyte c_QUANTISEQ</text>
<line x1="53.5" y1="194.925" x2="128.5" y2="194.925" stroke="#ececec" stroke-width="0.3" />
<line x1="52.3" y1="194.925" x2="53.5" y2="194.925" stroke="#555" stroke-width="0.3" />
<text x="52" y="195.88" font-size="2.6" fill="#78c440" text-anchor="end">T cell r_QUANTISEQ</text>
<line x1="53.5" y1="198.70000000000002" x2="128.5" y2="198.70000000000002" stroke="#ececec" stroke-width="0.3" />
<line x1="52.3" y1="198.70000000000002" x2="53.5" y2="198.70000000000002" stroke="#555" stroke-width="0.3" />
<text x="52" y="199.65" font-size="2.6" fill="#78c440" text-anchor="end">Myeloid dendritic cell _QUANTISEQ</text>
<line x1="53.5" y1="202.47500000000002" x2="128.5" y2="202.47500000000002" stroke="#ececec" stroke-width="0.3" />
<line x1="52.3" y1="202.47500000000002" x2="53.5" y2="202.47500000000002" stroke="#555" stroke-width="0.3" />
<text x="52" y="203.43" font-size="2.6" fill="#78c440" text-anchor="end">Neutrophil cell ty_QUANTISEQ</text>
<line x1="53.5" y1="206.25" x2="128.5" y2="206.25" stroke="#ececec" stroke-width="0.3" />
<line x1="52.3" y1="206.25" x2="53.5" y2="206.25" stroke="#555" stroke-width="0.3" />
<text x="52" y="207.20" font-size="2.6" fill="#78c440" text-anchor="end">Cancer associ_QUANTISEQ</text>
<line x1="53.5" y1="210.025" x2="128.5" y2="210.025" stroke="#ececec" stroke-width="0.3" />
<line x1="52.3" y1="210.025" x2="53.5" y2="210.025" stroke="#555" stroke-width="0.3" />
<text x="52" y="210.97" font-size="2.6" fill="#40cca8" text-anchor="end">Endot _MCPCOUNTER</text>
<line x1="53.5" y1="213.8" x2="128.5" y2="213.8" stroke="#ececec" stroke-width="0.3" />
<line x1="52.3" y1="213.8" x2="53.5" y2="213.8" stroke="#555" stroke-width="0.3" />
<text x="52" y="214.75" font-size="2.6" fill="#40cca8" text-anchor="end">T cell_MCPCOUNTER</text>
<line x1="53.5" y1="217.575" x2="128.5" y2="217.575" stroke="#ececec" stroke-width="0.3" />
<line x1="52.3" y1="217.575" x2="53.5" y2="217.575" stroke="#555" stroke-width="0.3" />
<text x="52" y="218.52" font-size="2.6" fill="#40cca8" text-anchor="end">B lineage cell typ_MCPCOUNTER</text>
<line x1="53.5" y1="221.35000000000002" x2="128.5" y2="221.35000000000002" stroke="#ececec" stroke-width="0.3" />
<line x1="52.3" y1="221.35000000000002" x2="53.5" y2="221.35000000000002" stroke="#555" stroke-width="0.3" />
<text x="52" y="222.30" font-size="2.6" fill="#40cca8" text-anchor="end">T cell CD8+ ce_MCPCOUNTER</text>
<line x1="53.5" y1="225.125" x2="128.5" y2="225.125" stroke="#ececec" stroke-width="0.3" />
<line x1="52.3" y1="225.125" x2="53.5" y2="225.125" stroke="#555" stroke-width="0.3" />
<text x="52" y="226.07" font-size="2.6" fill="#40c4f0" text-anchor="end">NK cell c_EPIC</text>
<line x1="53.5" y1="228.9" x2="128.5" y2="228.9" stroke="#ececec" stroke-width="0.3" />
<line x1="52.3" y1="228.9" x2="53.5" y2="228.9" stroke="#555" stroke-width="0.3" />
<text x="52" y="229.85" font-size="2.6" fill="#40c4f0" text-anchor="end">Neutrop _EPIC</text>
<line x1="53.5" y1="232.675" x2="128.5" y2="232.675" stroke="#ececec" stroke-width="0.3" />
<line x1="52.3" y1="232.675" x2="53.5" y2="232.675" stroke="#555" stroke-width="0.3" />
<text x="52" y="233.62" font-size="2.6" fill="#40c4f0" text-anchor="end">Macr_EPIC</text>
<line x1="53.5" y1="236.45" x2="128.5" y2="236.45" stroke="#ececec" stroke-width="0.3" />
<line x1="52.3" y1="236.45" x2="53.5" y2="236.45" stroke="#555" stroke-width="0.3" />
<text x="52" y="237.40" font-size="2.6" fill="#b8a6ff" text-anchor="end">T cell CD4+ memor _CIBERSORT-ABS</text>
<line x1="53.5" y1="240.22500000000002" x2="128.5" y2="240.22500000000002" stroke="#ececec" stroke-width="0.3" />
<line x1="52.3" y1="240.22500000000002" x2="53.5" y2="240.22500000000002" stroke="#555" stroke-width="0.3" />
<text x="52" y="241.18" font-size="2.6" fill="#b8a6ff" text-anchor="end">Dendritic cel_CIBERSORT-ABS</text>
<line x1="53.5" y1="244.0" x2="128.5" y2="244.0" stroke="#ececec" stroke-width="0.3" />
<line x1="52.3" y1="244.0" x2="53.5" y2="244.0" stroke="#555" stroke-width="0.3" />
<text x="52" y="244.95" font-size="2.6" fill="#b8a6ff" text-anchor="end">Mast cells r_CIBERSORT-ABS</text>
<line x1="53.5" y1="247.775" x2="128.5" y2="247.775" stroke="#ececec" stroke-width="0.3" />
<line x1="52.3" y1="247.775" x2="53.5" y2="247.775" stroke="#555" stroke-width="0.3" />
<text x="52" y="248.72" font-size="2.6" fill="#b8a6ff" text-anchor="end">NK c _CIBERSORT-ABS</text>
<line x1="53.5" y1="251.55" x2="128.5" y2="251.55" stroke="#ececec" stroke-width="0.3" />
<line x1="52.3" y1="251.55" x2="53.5" y2="251.55" stroke="#555" stroke-width="0.3" />
<text x="52" y="252.50" font-size="2.6" fill="#fb88e2" text-anchor="end">Eosinophils_CIBERSORT</text>
<line x1="53.5" y1="255.325" x2="128.5" y2="255.325" stroke="#ececec" stroke-width="0.3" />
<line x1="52.3" y1="255.325" x2="53.5" y2="255.325" stroke="#555" stroke-width="0.3" />
<text x="52" y="256.27" font-size="2.6" fill="#fb88e2" text-anchor="end">T cells CD4 memory re_CIBERSORT</text>
<line x1="53.5" y1="259.1" x2="128.5" y2="259.1" stroke="#ececec" stroke-width="0.3" />
<line x1="52.3" y1="259.1" x2="53.5" y2="259.1" stroke="#555" stroke-width="0.3" />
<text x="52" y="260.05" font-size="2.6" fill="#fb88e2" text-anchor="end">Macrophages_CIBERSORT</text>
<line x1="53.5" y1="262.875" x2="128.5" y2="262.875" stroke="#ececec" stroke-width="0.3" />
<line x1="52.3" y1="262.875" x2="53.5" y2="262.875" stroke="#555" stroke-width="0.3" />
<text x="52" y="263.82" font-size="2.6" fill="#fb88e2" text-anchor="end">Dendritic c_CIBERSORT</text>
<line x1="53.5" y1="266.65" x2="128.5" y2="266.65" stroke="#ececec" stroke-width="0.3" />
<line x1="52.3" y1="266.65" x2="53.5" y2="266.65" stroke="#555" stroke-width="0.3" />
<text x="52" y="267.60" font-size="2.6" fill="#fb88e2" text-anchor="end">Mast _CIBERSORT</text>
<circle cx="108.3" cy="138.3" r="1.35" fill="#e0655c"/>
<circle cx="104.7" cy="142.07500000000002" r="1.35" fill="#e0655c"/>
<circle cx="68.5" cy="145.85000000000002" r="1.35" fill="#e0655c"/>
<circle cx="64.0" cy="149.625" r="1.35" fill="#e0655c"/>
<circle cx="57.4" cy="153.4" r="1.35" fill="#e0655c"/>
<circle cx="105.3" cy="157.175" r="1.35" fill="#e0655c"/>
<circle cx="110.0" cy="160.95000000000002" r="1.35" fill="#e0655c"/>
<circle cx="112.7" cy="164.72500000000002" r="1.35" fill="#e0655c"/>
<circle cx="104.3" cy="168.5" r="1.35" fill="#e0655c"/>
<circle cx="115.3" cy="172.275" r="1.35" fill="#e0655c"/>
<circle cx="113.0" cy="176.05" r="1.35" fill="#e0655c"/>
<circle cx="63.0" cy="179.82500000000002" r="1.35" fill="#b89000"/>
<circle cx="107.7" cy="183.60000000000002" r="1.35" fill="#b89000"/>
<circle cx="114.7" cy="187.375" r="1.35" fill="#48a000"/>
<circle cx="62.7" cy="191.15" r="1.35" fill="#48a000"/>
<circle cx="112.3" cy="194.925" r="1.35" fill="#48a000"/>
<circle cx="103.9" cy="198.70000000000002" r="1.35" fill="#48a000"/>
<circle cx="103.9" cy="202.47500000000002" r="1.35" fill="#48a000"/>
<circle cx="72.1" cy="206.25" r="1.35" fill="#48a000"/>
<circle cx="63.0" cy="210.025" r="1.35" fill="#00a880"/>
<circle cx="113.9" cy="213.8" r="1.35" fill="#00a880"/>
<circle cx="113.9" cy="217.575" r="1.35" fill="#00a880"/>
<circle cx="70.9" cy="221.35000000000002" r="1.35" fill="#00a880"/>
<circle cx="105.9" cy="225.125" r="1.35" fill="#00a0d0"/>
<circle cx="69.5" cy="228.9" r="1.35" fill="#00a0d0"/>
<circle cx="104.9" cy="232.675" r="1.35" fill="#00a0d0"/>
<circle cx="58.0" cy="236.45" r="1.35" fill="#9078e8"/>
<circle cx="58.8" cy="240.22500000000002" r="1.35" fill="#9078e8"/>
<circle cx="125.0" cy="244.0" r="1.35" fill="#9078e8"/>
<circle cx="120.0" cy="247.775" r="1.35" fill="#9078e8"/>
<circle cx="70.7" cy="251.55" r="1.35" fill="#e050c0"/>
<circle cx="57.0" cy="255.325" r="1.35" fill="#e050c0"/>
<circle cx="58.6" cy="259.1" r="1.35" fill="#e050c0"/>
<circle cx="123.6" cy="262.875" r="1.35" fill="#e050c0"/>
<circle cx="119.3" cy="266.65" r="1.35" fill="#e050c0"/>
<rect x="53.5" y="136.5" width="75.0" height="132.0" fill="none" stroke="#666" stroke-width="0.45" />
<line x1="62.8" y1="268.5" x2="62.8" y2="269.3" stroke="#555" stroke-width="0.3" />
<text x="62.8" y="271.3" font-size="2.3" fill="#000" text-anchor="middle" font-weight="normal" stroke="#222" stroke-width="0.08">-0.6</text>
<line x1="75.5" y1="268.5" x2="75.5" y2="269.3" stroke="#555" stroke-width="0.3" />
<text x="75.5" y="271.3" font-size="2.3" fill="#000" text-anchor="middle" font-weight="normal" stroke="#222" stroke-width="0.08">-0.4</text>
<line x1="88.3" y1="268.5" x2="88.3" y2="269.3" stroke="#555" stroke-width="0.3" />
<text x="88.3" y="271.3" font-size="2.3" fill="#000" text-anchor="middle" font-weight="normal" stroke="#222" stroke-width="0.08">-0.2</text>
<line x1="101.0" y1="268.5" x2="101.0" y2="269.3" stroke="#555" stroke-width="0.3" />
<text x="101.0" y="271.3" font-size="2.3" fill="#000" text-anchor="middle" font-weight="normal" stroke="#222" stroke-width="0.08">0.0</text>
<line x1="113.8" y1="268.5" x2="113.8" y2="269.3" stroke="#555" stroke-width="0.3" />
<text x="113.8" y="271.3" font-size="2.3" fill="#000" text-anchor="middle" font-weight="normal" stroke="#222" stroke-width="0.08">0.2</text>
<line x1="126.5" y1="268.5" x2="126.5" y2="269.3" stroke="#555" stroke-width="0.3" />
<text x="126.5" y="271.3" font-size="2.3" fill="#000" text-anchor="middle" font-weight="normal" stroke="#222" stroke-width="0.08">0.4</text>
<text x="90.7" y="275.3" font-size="2.8" fill="#000" text-anchor="middle" font-weight="bold" stroke="#000" stroke-width="0.06">Correlation coefficient</text>
<text x="3.4" y="202.5" font-size="2.6" fill="#000" text-anchor="middle" font-weight="bold" transform="rotate(-90 3.4 202.5)" stroke="#000" stroke-width="0.06">Immune cell</text>
<text x="132.7" y="188.3" font-size="2.5" fill="#000" text-anchor="start" font-weight="bold" stroke="#000" stroke-width="0.06">Software</text>
<circle cx="134.5" cy="191.5" r="1.3" fill="#F8766D"/>
<text x="138.0" y="192.45" font-size="2.3" fill="#111" text-anchor="start" font-weight="normal" stroke="#111" stroke-width="0.1">XCELL</text>
<circle cx="134.5" cy="195.75" r="1.3" fill="#C49A00"/>
<text x="138.0" y="196.7" font-size="2.3" fill="#111" text-anchor="start" font-weight="normal" stroke="#111" stroke-width="0.1">TIMER</text>
<circle cx="134.5" cy="200.0" r="1.3" fill="#53B400"/>
<text x="138.0" y="200.95" font-size="2.3" fill="#111" text-anchor="start" font-weight="normal" stroke="#111" stroke-width="0.1">QUANTISEQ</text>
<circle cx="134.5" cy="204.25" r="1.3" fill="#00C094"/>
<text x="138.0" y="205.2" font-size="2.3" fill="#111" text-anchor="start" font-weight="normal" stroke="#111" stroke-width="0.1">MCPCOUNTER</text>
<circle cx="134.5" cy="208.5" r="1.3" fill="#00B6EB"/>
<text x="138.0" y="209.45" font-size="2.3" fill="#111" text-anchor="start" font-weight="normal" stroke="#111" stroke-width="0.1">EPIC</text>
<circle cx="134.5" cy="212.75" r="1.3" fill="#A58AFF"/>
<text x="138.0" y="213.7" font-size="2.3" fill="#111" text-anchor="start" font-weight="normal" stroke="#111" stroke-width="0.1">CIBERSORT-ABS</text>
<circle cx="134.5" cy="217.0" r="1.3" fill="#FB61D7"/>
<text x="138.0" y="217.95" font-size="2.3" fill="#111" text-anchor="start" font-weight="normal" stroke="#111" stroke-width="0.1">CIBERSORT</text>
<text x="156.4" y="131.9" font-size="8.5" fill="#000" font-weight="bold">D</text>
<text x="203.8" y="138.5" font-size="2.3" fill="#111" stroke="#111" stroke-width="0.07" text-anchor="middle" textLength="38" lengthAdjust="spacingAndGlyphs">T cells regulatory (Tregs)_XCELL</text>
<line x1="170.5" y1="143.5" x2="170.5" y2="190.5" stroke="#888" stroke-width="0.6" />
<line x1="170.5" y1="190.5" x2="232.3" y2="190.5" stroke="#888" stroke-width="0.6" />
<line x1="169.4" y1="144.5" x2="170.3" y2="144.5" stroke="#777" stroke-width="0.35" />
<text x="169.0" y="145.25" font-size="2.0" fill="#111" text-anchor="end" font-weight="normal"  stroke="#111" stroke-width="0.1">1.00</text>
<line x1="169.4" y1="155.45" x2="170.3" y2="155.45" stroke="#777" stroke-width="0.35" />
<text x="169.0" y="156.2" font-size="2.0" fill="#111" text-anchor="end" font-weight="normal"  stroke="#111" stroke-width="0.1">0.75</text>
<line x1="169.4" y1="166.4" x2="170.3" y2="166.4" stroke="#777" stroke-width="0.35" />
<text x="169.0" y="167.15" font-size="2.0" fill="#111" text-anchor="end" font-weight="normal"  stroke="#111" stroke-width="0.1">0.50</text>
<line x1="169.4" y1="177.35" x2="170.3" y2="177.35" stroke="#777" stroke-width="0.35" />
<text x="169.0" y="178.1" font-size="2.0" fill="#111" text-anchor="end" font-weight="normal"  stroke="#111" stroke-width="0.1">0.25</text>
<line x1="169.4" y1="188.3" x2="170.3" y2="188.3" stroke="#777" stroke-width="0.35" />
<text x="169.0" y="189.05" font-size="2.0" fill="#111" text-anchor="end" font-weight="normal"  stroke="#111" stroke-width="0.1">0.00</text>
<line x1="173.3" y1="190.0" x2="173.3" y2="190.8" stroke="#777" stroke-width="0.35" />
<text x="173.3" y="192.6" font-size="1.9" fill="#111" text-anchor="middle" font-weight="normal" stroke="#111" stroke-width="0.08">0</text>
<line x1="176.23000000000002" y1="190.0" x2="176.23000000000002" y2="190.8" stroke="#777" stroke-width="0.35" />
<text x="176.23000000000002" y="192.6" font-size="1.9" fill="#111" text-anchor="middle" font-weight="normal" stroke="#111" stroke-width="0.08">1</text>
<line x1="179.16000000000003" y1="190.0" x2="179.16000000000003" y2="190.8" stroke="#777" stroke-width="0.35" />
<text x="179.16000000000003" y="192.6" font-size="1.9" fill="#111" text-anchor="middle" font-weight="normal" stroke="#111" stroke-width="0.08">2</text>
<line x1="182.09" y1="190.0" x2="182.09" y2="190.8" stroke="#777" stroke-width="0.35" />
<text x="182.09" y="192.6" font-size="1.9" fill="#111" text-anchor="middle" font-weight="normal" stroke="#111" stroke-width="0.08">3</text>
<line x1="185.02" y1="190.0" x2="185.02" y2="190.8" stroke="#777" stroke-width="0.35" />
<text x="185.02" y="192.6" font-size="1.9" fill="#111" text-anchor="middle" font-weight="normal" stroke="#111" stroke-width="0.08">4</text>
<line x1="187.95000000000002" y1="190.0" x2="187.95000000000002" y2="190.8" stroke="#777" stroke-width="0.35" />
<text x="187.95000000000002" y="192.6" font-size="1.9" fill="#111" text-anchor="middle" font-weight="normal" stroke="#111" stroke-width="0.08">5</text>
<line x1="190.88000000000002" y1="190.0" x2="190.88000000000002" y2="190.8" stroke="#777" stroke-width="0.35" />
<text x="190.88000000000002" y="192.6" font-size="1.9" fill="#111" text-anchor="middle" font-weight="normal" stroke="#111" stroke-width="0.08">6</text>
<line x1="193.81" y1="190.0" x2="193.81" y2="190.8" stroke="#777" stroke-width="0.35" />
<text x="193.81" y="192.6" font-size="1.9" fill="#111" text-anchor="middle" font-weight="normal" stroke="#111" stroke-width="0.08">7</text>
<line x1="196.74" y1="190.0" x2="196.74" y2="190.8" stroke="#777" stroke-width="0.35" />
<text x="196.74" y="192.6" font-size="1.9" fill="#111" text-anchor="middle" font-weight="normal" stroke="#111" stroke-width="0.08">8</text>
<line x1="199.67000000000002" y1="190.0" x2="199.67000000000002" y2="190.8" stroke="#777" stroke-width="0.35" />
<text x="199.67000000000002" y="192.6" font-size="1.9" fill="#111" text-anchor="middle" font-weight="normal" stroke="#111" stroke-width="0.08">9</text>
<line x1="202.60000000000002" y1="190.0" x2="202.60000000000002" y2="190.8" stroke="#777" stroke-width="0.35" />
<text x="202.60000000000002" y="192.6" font-size="1.9" fill="#111" text-anchor="middle" font-weight="normal" stroke="#111" stroke-width="0.08">10</text>
<line x1="205.53000000000003" y1="190.0" x2="205.53000000000003" y2="190.8" stroke="#777" stroke-width="0.35" />
<text x="205.53000000000003" y="192.6" font-size="1.9" fill="#111" text-anchor="middle" font-weight="normal" stroke="#111" stroke-width="0.08">11</text>
<line x1="208.46" y1="190.0" x2="208.46" y2="190.8" stroke="#777" stroke-width="0.35" />
<text x="208.46" y="192.6" font-size="1.9" fill="#111" text-anchor="middle" font-weight="normal" stroke="#111" stroke-width="0.08">12</text>
<line x1="211.39000000000001" y1="190.0" x2="211.39000000000001" y2="190.8" stroke="#777" stroke-width="0.35" />
<text x="211.39000000000001" y="192.6" font-size="1.9" fill="#111" text-anchor="middle" font-weight="normal" stroke="#111" stroke-width="0.08">13</text>
<line x1="214.32000000000002" y1="190.0" x2="214.32000000000002" y2="190.8" stroke="#777" stroke-width="0.35" />
<text x="214.32000000000002" y="192.6" font-size="1.9" fill="#111" text-anchor="middle" font-weight="normal" stroke="#111" stroke-width="0.08">14</text>
<line x1="217.25" y1="190.0" x2="217.25" y2="190.8" stroke="#777" stroke-width="0.35" />
<text x="217.25" y="192.6" font-size="1.9" fill="#111" text-anchor="middle" font-weight="normal" stroke="#111" stroke-width="0.08">15</text>
<line x1="220.18" y1="190.0" x2="220.18" y2="190.8" stroke="#777" stroke-width="0.35" />
<text x="220.18" y="192.6" font-size="1.9" fill="#111" text-anchor="middle" font-weight="normal" stroke="#111" stroke-width="0.08">16</text>
<line x1="223.11" y1="190.0" x2="223.11" y2="190.8" stroke="#777" stroke-width="0.35" />
<text x="223.11" y="192.6" font-size="1.9" fill="#111" text-anchor="middle" font-weight="normal" stroke="#111" stroke-width="0.08">17</text>
<line x1="226.04000000000002" y1="190.0" x2="226.04000000000002" y2="190.8" stroke="#777" stroke-width="0.35" />
<text x="226.04000000000002" y="192.6" font-size="1.9" fill="#111" text-anchor="middle" font-weight="normal" stroke="#111" stroke-width="0.08">18</text>
<line x1="228.97000000000003" y1="190.0" x2="228.97000000000003" y2="190.8" stroke="#777" stroke-width="0.35" />
<text x="228.97000000000003" y="192.6" font-size="1.9" fill="#111" text-anchor="middle" font-weight="normal" stroke="#111" stroke-width="0.08">19</text>
<line x1="231.9" y1="190.0" x2="231.9" y2="190.8" stroke="#777" stroke-width="0.35" />
<text x="231.9" y="192.6" font-size="1.9" fill="#111" text-anchor="middle" font-weight="normal" stroke="#111" stroke-width="0.08">20</text>
<text x="201.3" y="194.8" font-size="2.2" fill="#111" text-anchor="middle" font-weight="normal"  stroke="#111" stroke-width="0.1">Time(years)</text>
<text x="162.70000000000002" y="166.4" font-size="2.3" fill="#111" text-anchor="middle" font-weight="normal" transform="rotate(-90 162.70000000000002 166.4)"  stroke="#111" stroke-width="0.1">Survival probability</text>
<path d="M170.3,166.4 H197.6 M181.3,166.4 V190.0 M197.6,166.4 V190.0" stroke="#aaa" fill="none" stroke-width="0.4" />
<path d="M186.6,176.2 L206,176.2 M206,176.2 L206,188.3 " stroke="#2c2cc4" fill="none" stroke-width="0.7" />
<path d="M187.60,175.6 V176.79999999999998 M189.90,175.6 V176.79999999999998 M192.20,175.6 V176.79999999999998 M194.50,175.6 V176.79999999999998 M196.80,175.6 V176.79999999999998 M199.10,175.6 V176.79999999999998 M201.40,175.6 V176.79999999999998 M203.70,175.6 V176.79999999999998 " stroke="#2c2cc4" fill="none" stroke-width="0.25" opacity="0.6"/>
<path d="M173.3,144.5 H175.50 V151.00 H177.00 V155.00 H179.60 V158.60 H181.00 V166.00 H183.00 V170.00 H184.80 V170.30 H186.60 V170.60 L186.6,176.2" stroke="#2c2cc4" fill="none" stroke-width="1.0" stroke-linejoin="round"/>
<path d="M174.00,145.67 V147.47 M177.70,155.07 V156.87 M179.30,157.28 V159.08 M181.70,166.50 V168.30 M183.70,169.22 V171.02 M185.30,169.48 V171.28 " stroke="#2c2cc4" fill="none" stroke-width="0.35" />
<path d="M208,168.1 L224.7,168.1 " stroke="#d83030" fill="none" stroke-width="0.7" />
<path d="M209.00,167.5 V168.7 M211.30,167.5 V168.7 M213.60,167.5 V168.7 M215.90,167.5 V168.7 M218.20,167.5 V168.7 M220.50,167.5 V168.7 M222.80,167.5 V168.7 " stroke="#d83030" fill="none" stroke-width="0.25" opacity="0.6"/>
<path d="M173.3,144.5 H174.87 V146.33 H176.43 V148.17 H178.00 V150.00 H179.50 V151.80 H181.00 V153.60 H182.50 V154.80 H184.00 V156.00 H186.60 V156.60 H189.00 V157.60 H189.60 V159.60 H192.00 V160.00 H193.50 V160.80 H195.00 V161.60 H197.00 V164.00 H197.60 V167.80 H198.90 V167.84 H200.20 V167.88 H201.50 V167.91 H202.80 V167.95 H204.10 V167.99 H205.40 V168.03 H206.70 V168.06 H208.00 V168.10" stroke="#d83030" fill="none" stroke-width="1.0" stroke-linejoin="round"/>
<path d="M174.00,144.42 V146.22 M175.60,146.29 V148.09 M177.20,148.16 V149.96 M178.70,149.94 V151.74 M180.30,151.86 V153.66 M181.70,153.26 V155.06 M183.30,154.54 V156.34 M184.70,155.26 V157.06 M186.30,155.63 V157.43 M187.30,155.99 V157.79 M188.90,156.66 V158.46 M190.30,158.82 V160.62 M191.90,159.08 V160.88 M192.70,159.47 V161.27 M194.30,160.33 V162.13 M195.70,161.54 V163.34 M198.30,166.92 V168.72 M199.90,166.97 V168.77 M201.50,167.01 V168.81 M203.10,167.06 V168.86 M204.70,167.10 V168.90 M206.30,167.15 V168.95 M207.90,167.20 V169.00 " stroke="#d83030" fill="none" stroke-width="0.35" />
<text x="173.5" y="180.0" font-size="2.9" fill="#000" text-anchor="start" font-weight="normal" stroke="#000" stroke-width="0.12">p&lt;0.001</text>
<text x="236.6" y="132.2" font-size="8.5" fill="#000" font-weight="bold">E</text>
<text x="285.1" y="138.7" font-size="2.3" fill="#111" stroke="#111" stroke-width="0.07" text-anchor="middle" textLength="28" lengthAdjust="spacingAndGlyphs">Macrophage M1_XCELL</text>
<line x1="251.5" y1="143.7" x2="251.5" y2="190.5" stroke="#888" stroke-width="0.6" />
<line x1="251.5" y1="190.5" x2="313.6" y2="190.5" stroke="#888" stroke-width="0.6" />
<line x1="250.7" y1="144.7" x2="251.6" y2="144.7" stroke="#777" stroke-width="0.35" />
<text x="250.29999999999998" y="145.45" font-size="2.0" fill="#111" text-anchor="end" font-weight="normal"  stroke="#111" stroke-width="0.1">1.00</text>
<line x1="250.7" y1="155.64999999999998" x2="251.6" y2="155.64999999999998" stroke="#777" stroke-width="0.35" />
<text x="250.29999999999998" y="156.39999999999998" font-size="2.0" fill="#111" text-anchor="end" font-weight="normal"  stroke="#111" stroke-width="0.1">0.75</text>
<line x1="250.7" y1="166.6" x2="251.6" y2="166.6" stroke="#777" stroke-width="0.35" />
<text x="250.29999999999998" y="167.35" font-size="2.0" fill="#111" text-anchor="end" font-weight="normal"  stroke="#111" stroke-width="0.1">0.50</text>
<line x1="250.7" y1="177.54999999999998" x2="251.6" y2="177.54999999999998" stroke="#777" stroke-width="0.35" />
<text x="250.29999999999998" y="178.29999999999998" font-size="2.0" fill="#111" text-anchor="end" font-weight="normal"  stroke="#111" stroke-width="0.1">0.25</text>
<line x1="250.7" y1="188.5" x2="251.6" y2="188.5" stroke="#777" stroke-width="0.35" />
<text x="250.29999999999998" y="189.25" font-size="2.0" fill="#111" text-anchor="end" font-weight="normal"  stroke="#111" stroke-width="0.1">0.00</text>
<line x1="254.6" y1="190.3" x2="254.6" y2="191.10000000000002" stroke="#777" stroke-width="0.35" />
<text x="254.6" y="192.9" font-size="1.9" fill="#111" text-anchor="middle" font-weight="normal" stroke="#111" stroke-width="0.08">0</text>
<line x1="257.53" y1="190.3" x2="257.53" y2="191.10000000000002" stroke="#777" stroke-width="0.35" />
<text x="257.53" y="192.9" font-size="1.9" fill="#111" text-anchor="middle" font-weight="normal" stroke="#111" stroke-width="0.08">1</text>
<line x1="260.46" y1="190.3" x2="260.46" y2="191.10000000000002" stroke="#777" stroke-width="0.35" />
<text x="260.46" y="192.9" font-size="1.9" fill="#111" text-anchor="middle" font-weight="normal" stroke="#111" stroke-width="0.08">2</text>
<line x1="263.39" y1="190.3" x2="263.39" y2="191.10000000000002" stroke="#777" stroke-width="0.35" />
<text x="263.39" y="192.9" font-size="1.9" fill="#111" text-anchor="middle" font-weight="normal" stroke="#111" stroke-width="0.08">3</text>
<line x1="266.32" y1="190.3" x2="266.32" y2="191.10000000000002" stroke="#777" stroke-width="0.35" />
<text x="266.32" y="192.9" font-size="1.9" fill="#111" text-anchor="middle" font-weight="normal" stroke="#111" stroke-width="0.08">4</text>
<line x1="269.25" y1="190.3" x2="269.25" y2="191.10000000000002" stroke="#777" stroke-width="0.35" />
<text x="269.25" y="192.9" font-size="1.9" fill="#111" text-anchor="middle" font-weight="normal" stroke="#111" stroke-width="0.08">5</text>
<line x1="272.18" y1="190.3" x2="272.18" y2="191.10000000000002" stroke="#777" stroke-width="0.35" />
<text x="272.18" y="192.9" font-size="1.9" fill="#111" text-anchor="middle" font-weight="normal" stroke="#111" stroke-width="0.08">6</text>
<line x1="275.11" y1="190.3" x2="275.11" y2="191.10000000000002" stroke="#777" stroke-width="0.35" />
<text x="275.11" y="192.9" font-size="1.9" fill="#111" text-anchor="middle" font-weight="normal" stroke="#111" stroke-width="0.08">7</text>
<line x1="278.04" y1="190.3" x2="278.04" y2="191.10000000000002" stroke="#777" stroke-width="0.35" />
<text x="278.04" y="192.9" font-size="1.9" fill="#111" text-anchor="middle" font-weight="normal" stroke="#111" stroke-width="0.08">8</text>
<line x1="280.96999999999997" y1="190.3" x2="280.96999999999997" y2="191.10000000000002" stroke="#777" stroke-width="0.35" />
<text x="280.96999999999997" y="192.9" font-size="1.9" fill="#111" text-anchor="middle" font-weight="normal" stroke="#111" stroke-width="0.08">9</text>
<line x1="283.9" y1="190.3" x2="283.9" y2="191.10000000000002" stroke="#777" stroke-width="0.35" />
<text x="283.9" y="192.9" font-size="1.9" fill="#111" text-anchor="middle" font-weight="normal" stroke="#111" stroke-width="0.08">10</text>
<line x1="286.83" y1="190.3" x2="286.83" y2="191.10000000000002" stroke="#777" stroke-width="0.35" />
<text x="286.83" y="192.9" font-size="1.9" fill="#111" text-anchor="middle" font-weight="normal" stroke="#111" stroke-width="0.08">11</text>
<line x1="289.76" y1="190.3" x2="289.76" y2="191.10000000000002" stroke="#777" stroke-width="0.35" />
<text x="289.76" y="192.9" font-size="1.9" fill="#111" text-anchor="middle" font-weight="normal" stroke="#111" stroke-width="0.08">12</text>
<line x1="292.69" y1="190.3" x2="292.69" y2="191.10000000000002" stroke="#777" stroke-width="0.35" />
<text x="292.69" y="192.9" font-size="1.9" fill="#111" text-anchor="middle" font-weight="normal" stroke="#111" stroke-width="0.08">13</text>
<line x1="295.62" y1="190.3" x2="295.62" y2="191.10000000000002" stroke="#777" stroke-width="0.35" />
<text x="295.62" y="192.9" font-size="1.9" fill="#111" text-anchor="middle" font-weight="normal" stroke="#111" stroke-width="0.08">14</text>
<line x1="298.55" y1="190.3" x2="298.55" y2="191.10000000000002" stroke="#777" stroke-width="0.35" />
<text x="298.55" y="192.9" font-size="1.9" fill="#111" text-anchor="middle" font-weight="normal" stroke="#111" stroke-width="0.08">15</text>
<line x1="301.48" y1="190.3" x2="301.48" y2="191.10000000000002" stroke="#777" stroke-width="0.35" />
<text x="301.48" y="192.9" font-size="1.9" fill="#111" text-anchor="middle" font-weight="normal" stroke="#111" stroke-width="0.08">16</text>
<line x1="304.40999999999997" y1="190.3" x2="304.40999999999997" y2="191.10000000000002" stroke="#777" stroke-width="0.35" />
<text x="304.40999999999997" y="192.9" font-size="1.9" fill="#111" text-anchor="middle" font-weight="normal" stroke="#111" stroke-width="0.08">17</text>
<line x1="307.34" y1="190.3" x2="307.34" y2="191.10000000000002" stroke="#777" stroke-width="0.35" />
<text x="307.34" y="192.9" font-size="1.9" fill="#111" text-anchor="middle" font-weight="normal" stroke="#111" stroke-width="0.08">18</text>
<line x1="310.27" y1="190.3" x2="310.27" y2="191.10000000000002" stroke="#777" stroke-width="0.35" />
<text x="310.27" y="192.9" font-size="1.9" fill="#111" text-anchor="middle" font-weight="normal" stroke="#111" stroke-width="0.08">19</text>
<line x1="313.2" y1="190.3" x2="313.2" y2="191.10000000000002" stroke="#777" stroke-width="0.35" />
<text x="313.2" y="192.9" font-size="1.9" fill="#111" text-anchor="middle" font-weight="normal" stroke="#111" stroke-width="0.08">20</text>
<text x="282.6" y="195.10000000000002" font-size="2.2" fill="#111" text-anchor="middle" font-weight="normal"  stroke="#111" stroke-width="0.1">Time(years)</text>
<text x="244.0" y="166.6" font-size="2.3" fill="#111" text-anchor="middle" font-weight="normal" transform="rotate(-90 244.0 166.6)"  stroke="#111" stroke-width="0.1">Survival probability</text>
<path d="M251.6,166.4 H279.6 M265.6,166.4 V190.3 M279.6,166.4 V190.3" stroke="#aaa" fill="none" stroke-width="0.4" />
<path d="M265.8,166.4 L270.5,166.4 M271.3,173.3 L293,173.3 " stroke="#d83030" fill="none" stroke-width="0.7" />
<path d="M266.80,165.8 V167.0 M269.10,165.8 V167.0 M272.30,172.70000000000002 V173.9 M274.60,172.70000000000002 V173.9 M276.90,172.70000000000002 V173.9 M279.20,172.70000000000002 V173.9 M281.50,172.70000000000002 V173.9 M283.80,172.70000000000002 V173.9 M286.10,172.70000000000002 V173.9 M288.40,172.70000000000002 V173.9 M290.70,172.70000000000002 V173.9 " stroke="#d83030" fill="none" stroke-width="0.25" opacity="0.6"/>
<path d="M255,144.7 H256.50 V147.00 H258.00 V149.30 H260.40 V154.00 H262.70 V157.80 H264.30 V161.70 H265.80 V166.40" stroke="#d83030" fill="none" stroke-width="1.0" stroke-linejoin="round"/>
<path d="M255.70,144.87 V146.67 M257.30,147.33 V149.13 M258.70,149.77 V151.57 M260.30,152.90 V154.70 M261.10,154.26 V156.06 M263.40,158.61 V160.41 " stroke="#d83030" fill="none" stroke-width="0.35" />
<path d="M270.5,166.4 H271.30 V173.30" stroke="#d83030" fill="none" stroke-width="1.0" stroke-linejoin="round"/>
<path d="M287.5,170.2 L306.9,170.2 " stroke="#2c2cc4" fill="none" stroke-width="0.7" />
<path d="M288.50,169.6 V170.79999999999998 M290.80,169.6 V170.79999999999998 M293.10,169.6 V170.79999999999998 M295.40,169.6 V170.79999999999998 M297.70,169.6 V170.79999999999998 M300.00,169.6 V170.79999999999998 M302.30,169.6 V170.79999999999998 M304.60,169.6 V170.79999999999998 " stroke="#2c2cc4" fill="none" stroke-width="0.25" opacity="0.6"/>
<path d="M255,144.7 H256.95 V146.25 H258.90 V147.80 H260.80 V151.25 H262.70 V154.70 H264.00 V155.23 H265.30 V155.77 H266.60 V156.30 H268.17 V156.80 H269.73 V157.30 H271.30 V157.80 H273.20 V158.60 H275.10 V159.40 H276.70 V160.90 H278.20 V161.70 H279.00 V167.10 H280.30 V167.23 H281.60 V167.37 H282.90 V167.50 H284.20 V167.63 H285.50 V167.77 H286.80 V167.90 H287.50 V170.20" stroke="#2c2cc4" fill="none" stroke-width="1.0" stroke-linejoin="round"/>
<path d="M255.70,144.36 V146.16 M257.30,145.63 V147.43 M259.60,148.17 V149.97 M261.20,151.08 V152.88 M263.40,154.09 V155.89 M265.00,154.74 V156.54 M267.30,155.62 V157.42 M268.90,156.13 V157.93 M270.50,156.64 V158.44 M272.00,157.19 V158.99 M273.60,157.87 V159.67 M275.80,159.16 V160.96 M279.70,166.27 V168.07 M281.30,166.44 V168.24 M282.90,166.60 V168.40 M284.50,166.76 V168.56 M286.10,166.93 V168.73 " stroke="#2c2cc4" fill="none" stroke-width="0.35" />
<text x="254.79999999999998" y="180.2" font-size="2.9" fill="#000" text-anchor="start" font-weight="normal" stroke="#000" stroke-width="0.12">p=0.011</text>
<text x="318.8" y="132.2" font-size="8.5" fill="#000" font-weight="bold">F</text>
<text x="367.1" y="138.7" font-size="2.3" fill="#111" stroke="#111" stroke-width="0.07" text-anchor="middle" textLength="26" lengthAdjust="spacingAndGlyphs">Neutrophil_XCELL</text>
<line x1="333.5" y1="143.7" x2="333.5" y2="190.5" stroke="#888" stroke-width="0.6" />
<line x1="333.5" y1="190.5" x2="395.6" y2="190.5" stroke="#888" stroke-width="0.6" />
<line x1="332.70000000000005" y1="144.7" x2="333.6" y2="144.7" stroke="#777" stroke-width="0.35" />
<text x="332.3" y="145.45" font-size="2.0" fill="#111" text-anchor="end" font-weight="normal"  stroke="#111" stroke-width="0.1">1.00</text>
<line x1="332.70000000000005" y1="155.64999999999998" x2="333.6" y2="155.64999999999998" stroke="#777" stroke-width="0.35" />
<text x="332.3" y="156.39999999999998" font-size="2.0" fill="#111" text-anchor="end" font-weight="normal"  stroke="#111" stroke-width="0.1">0.75</text>
<line x1="332.70000000000005" y1="166.6" x2="333.6" y2="166.6" stroke="#777" stroke-width="0.35" />
<text x="332.3" y="167.35" font-size="2.0" fill="#111" text-anchor="end" font-weight="normal"  stroke="#111" stroke-width="0.1">0.50</text>
<line x1="332.70000000000005" y1="177.54999999999998" x2="333.6" y2="177.54999999999998" stroke="#777" stroke-width="0.35" />
<text x="332.3" y="178.29999999999998" font-size="2.0" fill="#111" text-anchor="end" font-weight="normal"  stroke="#111" stroke-width="0.1">0.25</text>
<line x1="332.70000000000005" y1="188.5" x2="333.6" y2="188.5" stroke="#777" stroke-width="0.35" />
<text x="332.3" y="189.25" font-size="2.0" fill="#111" text-anchor="end" font-weight="normal"  stroke="#111" stroke-width="0.1">0.00</text>
<line x1="336.6" y1="190.3" x2="336.6" y2="191.10000000000002" stroke="#777" stroke-width="0.35" />
<text x="336.6" y="192.9" font-size="1.9" fill="#111" text-anchor="middle" font-weight="normal" stroke="#111" stroke-width="0.08">0</text>
<line x1="339.53000000000003" y1="190.3" x2="339.53000000000003" y2="191.10000000000002" stroke="#777" stroke-width="0.35" />
<text x="339.53000000000003" y="192.9" font-size="1.9" fill="#111" text-anchor="middle" font-weight="normal" stroke="#111" stroke-width="0.08">1</text>
<line x1="342.46000000000004" y1="190.3" x2="342.46000000000004" y2="191.10000000000002" stroke="#777" stroke-width="0.35" />
<text x="342.46000000000004" y="192.9" font-size="1.9" fill="#111" text-anchor="middle" font-weight="normal" stroke="#111" stroke-width="0.08">2</text>
<line x1="345.39000000000004" y1="190.3" x2="345.39000000000004" y2="191.10000000000002" stroke="#777" stroke-width="0.35" />
<text x="345.39000000000004" y="192.9" font-size="1.9" fill="#111" text-anchor="middle" font-weight="normal" stroke="#111" stroke-width="0.08">3</text>
<line x1="348.32000000000005" y1="190.3" x2="348.32000000000005" y2="191.10000000000002" stroke="#777" stroke-width="0.35" />
<text x="348.32000000000005" y="192.9" font-size="1.9" fill="#111" text-anchor="middle" font-weight="normal" stroke="#111" stroke-width="0.08">4</text>
<line x1="351.25" y1="190.3" x2="351.25" y2="191.10000000000002" stroke="#777" stroke-width="0.35" />
<text x="351.25" y="192.9" font-size="1.9" fill="#111" text-anchor="middle" font-weight="normal" stroke="#111" stroke-width="0.08">5</text>
<line x1="354.18" y1="190.3" x2="354.18" y2="191.10000000000002" stroke="#777" stroke-width="0.35" />
<text x="354.18" y="192.9" font-size="1.9" fill="#111" text-anchor="middle" font-weight="normal" stroke="#111" stroke-width="0.08">6</text>
<line x1="357.11" y1="190.3" x2="357.11" y2="191.10000000000002" stroke="#777" stroke-width="0.35" />
<text x="357.11" y="192.9" font-size="1.9" fill="#111" text-anchor="middle" font-weight="normal" stroke="#111" stroke-width="0.08">7</text>
<line x1="360.04" y1="190.3" x2="360.04" y2="191.10000000000002" stroke="#777" stroke-width="0.35" />
<text x="360.04" y="192.9" font-size="1.9" fill="#111" text-anchor="middle" font-weight="normal" stroke="#111" stroke-width="0.08">8</text>
<line x1="362.97" y1="190.3" x2="362.97" y2="191.10000000000002" stroke="#777" stroke-width="0.35" />
<text x="362.97" y="192.9" font-size="1.9" fill="#111" text-anchor="middle" font-weight="normal" stroke="#111" stroke-width="0.08">9</text>
<line x1="365.90000000000003" y1="190.3" x2="365.90000000000003" y2="191.10000000000002" stroke="#777" stroke-width="0.35" />
<text x="365.90000000000003" y="192.9" font-size="1.9" fill="#111" text-anchor="middle" font-weight="normal" stroke="#111" stroke-width="0.08">10</text>
<line x1="368.83000000000004" y1="190.3" x2="368.83000000000004" y2="191.10000000000002" stroke="#777" stroke-width="0.35" />
<text x="368.83000000000004" y="192.9" font-size="1.9" fill="#111" text-anchor="middle" font-weight="normal" stroke="#111" stroke-width="0.08">11</text>
<line x1="371.76000000000005" y1="190.3" x2="371.76000000000005" y2="191.10000000000002" stroke="#777" stroke-width="0.35" />
<text x="371.76000000000005" y="192.9" font-size="1.9" fill="#111" text-anchor="middle" font-weight="normal" stroke="#111" stroke-width="0.08">12</text>
<line x1="374.69000000000005" y1="190.3" x2="374.69000000000005" y2="191.10000000000002" stroke="#777" stroke-width="0.35" />
<text x="374.69000000000005" y="192.9" font-size="1.9" fill="#111" text-anchor="middle" font-weight="normal" stroke="#111" stroke-width="0.08">13</text>
<line x1="377.62" y1="190.3" x2="377.62" y2="191.10000000000002" stroke="#777" stroke-width="0.35" />
<text x="377.62" y="192.9" font-size="1.9" fill="#111" text-anchor="middle" font-weight="normal" stroke="#111" stroke-width="0.08">14</text>
<line x1="380.55" y1="190.3" x2="380.55" y2="191.10000000000002" stroke="#777" stroke-width="0.35" />
<text x="380.55" y="192.9" font-size="1.9" fill="#111" text-anchor="middle" font-weight="normal" stroke="#111" stroke-width="0.08">15</text>
<line x1="383.48" y1="190.3" x2="383.48" y2="191.10000000000002" stroke="#777" stroke-width="0.35" />
<text x="383.48" y="192.9" font-size="1.9" fill="#111" text-anchor="middle" font-weight="normal" stroke="#111" stroke-width="0.08">16</text>
<line x1="386.41" y1="190.3" x2="386.41" y2="191.10000000000002" stroke="#777" stroke-width="0.35" />
<text x="386.41" y="192.9" font-size="1.9" fill="#111" text-anchor="middle" font-weight="normal" stroke="#111" stroke-width="0.08">17</text>
<line x1="389.34000000000003" y1="190.3" x2="389.34000000000003" y2="191.10000000000002" stroke="#777" stroke-width="0.35" />
<text x="389.34000000000003" y="192.9" font-size="1.9" fill="#111" text-anchor="middle" font-weight="normal" stroke="#111" stroke-width="0.08">18</text>
<line x1="392.27000000000004" y1="190.3" x2="392.27000000000004" y2="191.10000000000002" stroke="#777" stroke-width="0.35" />
<text x="392.27000000000004" y="192.9" font-size="1.9" fill="#111" text-anchor="middle" font-weight="normal" stroke="#111" stroke-width="0.08">19</text>
<line x1="395.20000000000005" y1="190.3" x2="395.20000000000005" y2="191.10000000000002" stroke="#777" stroke-width="0.35" />
<text x="395.20000000000005" y="192.9" font-size="1.9" fill="#111" text-anchor="middle" font-weight="normal" stroke="#111" stroke-width="0.08">20</text>
<text x="364.6" y="195.10000000000002" font-size="2.2" fill="#111" text-anchor="middle" font-weight="normal"  stroke="#111" stroke-width="0.1">Time(years)</text>
<text x="326.0" y="166.6" font-size="2.3" fill="#111" text-anchor="middle" font-weight="normal" transform="rotate(-90 326.0 166.6)"  stroke="#111" stroke-width="0.1">Survival probability</text>
<path d="M333.6,166.4 H361.8 M347.9,166.4 V190.3 M361.8,166.4 V190.3" stroke="#aaa" fill="none" stroke-width="0.4" />
<path d="M343.2,161.7 L347.8,161.7 M348.3,167.9 L361.8,167.9 M361.8,167.9 L361.8,188.3 " stroke="#d83030" fill="none" stroke-width="0.7" />
<path d="M344.20,161.1 V162.29999999999998 M346.50,161.1 V162.29999999999998 M349.30,167.3 V168.5 M351.60,167.3 V168.5 M353.90,167.3 V168.5 M356.20,167.3 V168.5 M358.50,167.3 V168.5 M360.80,167.3 V168.5 " stroke="#d83030" fill="none" stroke-width="0.25" opacity="0.6"/>
<path d="M336.5,144.7 H338.25 V147.80 H340.00 V150.90 H341.60 V156.30 H343.20 V161.70" stroke="#d83030" fill="none" stroke-width="1.0" stroke-linejoin="round"/>
<path d="M337.20,145.04 V146.84 M338.80,147.87 V149.67 M340.70,152.36 V154.16 M342.30,157.76 V159.56 " stroke="#d83030" fill="none" stroke-width="0.35" />
<path d="M347.8,161.7 H348.30 V167.90" stroke="#d83030" fill="none" stroke-width="1.0" stroke-linejoin="round"/>
<path d="M361,167.1 L368.8,167.1 M369.5,170.2 L388.9,170.2 " stroke="#2c2cc4" fill="none" stroke-width="0.7" />
<path d="M362.00,166.5 V167.7 M364.30,166.5 V167.7 M366.60,166.5 V167.7 M370.50,169.6 V170.79999999999998 M372.80,169.6 V170.79999999999998 M375.10,169.6 V170.79999999999998 M377.40,169.6 V170.79999999999998 M379.70,169.6 V170.79999999999998 M382.00,169.6 V170.79999999999998 M384.30,169.6 V170.79999999999998 M386.60,169.6 V170.79999999999998 " stroke="#2c2cc4" fill="none" stroke-width="0.25" opacity="0.6"/>
<path d="M336.5,144.7 H337.97 V145.97 H339.43 V147.23 H340.90 V148.50 H342.80 V151.25 H344.70 V154.00 H346.00 V155.00 H347.30 V156.00 H348.60 V157.00 H350.55 V158.20 H352.50 V159.40 H354.80 V162.50 H356.37 V163.27 H357.93 V164.03 H359.50 V164.80 H361.00 V167.10" stroke="#2c2cc4" fill="none" stroke-width="1.0" stroke-linejoin="round"/>
<path d="M337.20,144.40 V146.20 M338.80,145.79 V147.59 M340.40,147.17 V148.97 M341.60,148.61 V150.41 M343.20,150.93 V152.73 M345.40,153.64 V155.44 M347.00,154.87 V156.67 M349.30,156.53 V158.33 M350.90,157.52 V159.32 M353.20,159.44 V161.24 M355.50,161.94 V163.74 M357.10,162.73 V164.53 M358.70,163.51 V165.31 " stroke="#2c2cc4" fill="none" stroke-width="0.35" />
<path d="M368.8,167.1 H369.50 V170.20" stroke="#2c2cc4" fill="none" stroke-width="1.0" stroke-linejoin="round"/>
<text x="336.8" y="180.2" font-size="2.9" fill="#000" text-anchor="start" font-weight="normal" stroke="#000" stroke-width="0.12">p=0.008</text>
<text x="160.3" y="215.3" font-size="8.5" fill="#000" font-weight="bold">G</text>
<text x="203.8" y="218.7" font-size="2.3" fill="#111" stroke="#111" stroke-width="0.07" text-anchor="middle" textLength="33" lengthAdjust="spacingAndGlyphs">Dendritic cells resting_CIBERSORT</text>
<line x1="170.5" y1="223.7" x2="170.5" y2="270.5" stroke="#888" stroke-width="0.6" />
<line x1="170.5" y1="270.5" x2="232.3" y2="270.5" stroke="#888" stroke-width="0.6" />
<line x1="169.4" y1="224.7" x2="170.3" y2="224.7" stroke="#777" stroke-width="0.35" />
<text x="169.0" y="225.45" font-size="2.0" fill="#111" text-anchor="end" font-weight="normal"  stroke="#111" stroke-width="0.1">1.00</text>
<line x1="169.4" y1="235.64999999999998" x2="170.3" y2="235.64999999999998" stroke="#777" stroke-width="0.35" />
<text x="169.0" y="236.39999999999998" font-size="2.0" fill="#111" text-anchor="end" font-weight="normal"  stroke="#111" stroke-width="0.1">0.75</text>
<line x1="169.4" y1="246.6" x2="170.3" y2="246.6" stroke="#777" stroke-width="0.35" />
<text x="169.0" y="247.35" font-size="2.0" fill="#111" text-anchor="end" font-weight="normal"  stroke="#111" stroke-width="0.1">0.50</text>
<line x1="169.4" y1="257.54999999999995" x2="170.3" y2="257.54999999999995" stroke="#777" stroke-width="0.35" />
<text x="169.0" y="258.29999999999995" font-size="2.0" fill="#111" text-anchor="end" font-weight="normal"  stroke="#111" stroke-width="0.1">0.25</text>
<line x1="169.4" y1="268.5" x2="170.3" y2="268.5" stroke="#777" stroke-width="0.35" />
<text x="169.0" y="269.25" font-size="2.0" fill="#111" text-anchor="end" font-weight="normal"  stroke="#111" stroke-width="0.1">0.00</text>
<line x1="173.3" y1="270.2" x2="173.3" y2="271.0" stroke="#777" stroke-width="0.35" />
<text x="173.3" y="272.8" font-size="1.9" fill="#111" text-anchor="middle" font-weight="normal" stroke="#111" stroke-width="0.08">0</text>
<line x1="176.23000000000002" y1="270.2" x2="176.23000000000002" y2="271.0" stroke="#777" stroke-width="0.35" />
<text x="176.23000000000002" y="272.8" font-size="1.9" fill="#111" text-anchor="middle" font-weight="normal" stroke="#111" stroke-width="0.08">1</text>
<line x1="179.16000000000003" y1="270.2" x2="179.16000000000003" y2="271.0" stroke="#777" stroke-width="0.35" />
<text x="179.16000000000003" y="272.8" font-size="1.9" fill="#111" text-anchor="middle" font-weight="normal" stroke="#111" stroke-width="0.08">2</text>
<line x1="182.09" y1="270.2" x2="182.09" y2="271.0" stroke="#777" stroke-width="0.35" />
<text x="182.09" y="272.8" font-size="1.9" fill="#111" text-anchor="middle" font-weight="normal" stroke="#111" stroke-width="0.08">3</text>
<line x1="185.02" y1="270.2" x2="185.02" y2="271.0" stroke="#777" stroke-width="0.35" />
<text x="185.02" y="272.8" font-size="1.9" fill="#111" text-anchor="middle" font-weight="normal" stroke="#111" stroke-width="0.08">4</text>
<line x1="187.95000000000002" y1="270.2" x2="187.95000000000002" y2="271.0" stroke="#777" stroke-width="0.35" />
<text x="187.95000000000002" y="272.8" font-size="1.9" fill="#111" text-anchor="middle" font-weight="normal" stroke="#111" stroke-width="0.08">5</text>
<line x1="190.88000000000002" y1="270.2" x2="190.88000000000002" y2="271.0" stroke="#777" stroke-width="0.35" />
<text x="190.88000000000002" y="272.8" font-size="1.9" fill="#111" text-anchor="middle" font-weight="normal" stroke="#111" stroke-width="0.08">6</text>
<line x1="193.81" y1="270.2" x2="193.81" y2="271.0" stroke="#777" stroke-width="0.35" />
<text x="193.81" y="272.8" font-size="1.9" fill="#111" text-anchor="middle" font-weight="normal" stroke="#111" stroke-width="0.08">7</text>
<line x1="196.74" y1="270.2" x2="196.74" y2="271.0" stroke="#777" stroke-width="0.35" />
<text x="196.74" y="272.8" font-size="1.9" fill="#111" text-anchor="middle" font-weight="normal" stroke="#111" stroke-width="0.08">8</text>
<line x1="199.67000000000002" y1="270.2" x2="199.67000000000002" y2="271.0" stroke="#777" stroke-width="0.35" />
<text x="199.67000000000002" y="272.8" font-size="1.9" fill="#111" text-anchor="middle" font-weight="normal" stroke="#111" stroke-width="0.08">9</text>
<line x1="202.60000000000002" y1="270.2" x2="202.60000000000002" y2="271.0" stroke="#777" stroke-width="0.35" />
<text x="202.60000000000002" y="272.8" font-size="1.9" fill="#111" text-anchor="middle" font-weight="normal" stroke="#111" stroke-width="0.08">10</text>
<line x1="205.53000000000003" y1="270.2" x2="205.53000000000003" y2="271.0" stroke="#777" stroke-width="0.35" />
<text x="205.53000000000003" y="272.8" font-size="1.9" fill="#111" text-anchor="middle" font-weight="normal" stroke="#111" stroke-width="0.08">11</text>
<line x1="208.46" y1="270.2" x2="208.46" y2="271.0" stroke="#777" stroke-width="0.35" />
<text x="208.46" y="272.8" font-size="1.9" fill="#111" text-anchor="middle" font-weight="normal" stroke="#111" stroke-width="0.08">12</text>
<line x1="211.39000000000001" y1="270.2" x2="211.39000000000001" y2="271.0" stroke="#777" stroke-width="0.35" />
<text x="211.39000000000001" y="272.8" font-size="1.9" fill="#111" text-anchor="middle" font-weight="normal" stroke="#111" stroke-width="0.08">13</text>
<line x1="214.32000000000002" y1="270.2" x2="214.32000000000002" y2="271.0" stroke="#777" stroke-width="0.35" />
<text x="214.32000000000002" y="272.8" font-size="1.9" fill="#111" text-anchor="middle" font-weight="normal" stroke="#111" stroke-width="0.08">14</text>
<line x1="217.25" y1="270.2" x2="217.25" y2="271.0" stroke="#777" stroke-width="0.35" />
<text x="217.25" y="272.8" font-size="1.9" fill="#111" text-anchor="middle" font-weight="normal" stroke="#111" stroke-width="0.08">15</text>
<line x1="220.18" y1="270.2" x2="220.18" y2="271.0" stroke="#777" stroke-width="0.35" />
<text x="220.18" y="272.8" font-size="1.9" fill="#111" text-anchor="middle" font-weight="normal" stroke="#111" stroke-width="0.08">16</text>
<line x1="223.11" y1="270.2" x2="223.11" y2="271.0" stroke="#777" stroke-width="0.35" />
<text x="223.11" y="272.8" font-size="1.9" fill="#111" text-anchor="middle" font-weight="normal" stroke="#111" stroke-width="0.08">17</text>
<line x1="226.04000000000002" y1="270.2" x2="226.04000000000002" y2="271.0" stroke="#777" stroke-width="0.35" />
<text x="226.04000000000002" y="272.8" font-size="1.9" fill="#111" text-anchor="middle" font-weight="normal" stroke="#111" stroke-width="0.08">18</text>
<line x1="228.97000000000003" y1="270.2" x2="228.97000000000003" y2="271.0" stroke="#777" stroke-width="0.35" />
<text x="228.97000000000003" y="272.8" font-size="1.9" fill="#111" text-anchor="middle" font-weight="normal" stroke="#111" stroke-width="0.08">19</text>
<line x1="231.9" y1="270.2" x2="231.9" y2="271.0" stroke="#777" stroke-width="0.35" />
<text x="231.9" y="272.8" font-size="1.9" fill="#111" text-anchor="middle" font-weight="normal" stroke="#111" stroke-width="0.08">20</text>
<text x="201.3" y="275.0" font-size="2.2" fill="#111" text-anchor="middle" font-weight="normal"  stroke="#111" stroke-width="0.1">Time(years)</text>
<text x="162.70000000000002" y="246.6" font-size="2.3" fill="#111" text-anchor="middle" font-weight="normal" transform="rotate(-90 162.70000000000002 246.6)"  stroke="#111" stroke-width="0.1">Survival probability</text>
<path d="M170.3,246.7 H198.2 M181.6,246.7 V270.2 M198.2,246.7 V270.2" stroke="#aaa" fill="none" stroke-width="0.4" />
<path d="M206,252.9 L206,268.4 " stroke="#2c2cc4" fill="none" stroke-width="0.7" />
<path d="M173,224.7 H175.00 V229.30 H177.30 V238.60 H179.60 V239.40 H181.20 V246.40 H182.75 V247.55 H184.30 V248.70 H185.83 V250.00 H187.37 V251.30 H188.90 V252.60 H190.22 V252.62 H191.53 V252.65 H192.85 V252.67 H194.16 V252.69 H195.48 V252.72 H196.79 V252.74 H198.11 V252.76 H199.42 V252.78 H200.74 V252.81 H202.05 V252.83 H203.37 V252.85 H204.68 V252.88 H206.00 V252.90" stroke="#2c2cc4" fill="none" stroke-width="1.0" stroke-linejoin="round"/>
<path d="M173.70,225.41 V227.21 M175.70,231.23 V233.03 M177.30,237.70 V239.50 M178.00,237.94 V239.74 M180.30,241.56 V243.36 M181.90,246.02 V247.82 M183.50,247.21 V249.01 M185.00,248.39 V250.19 M186.60,249.75 V251.55 M188.20,251.11 V252.91 M189.60,251.71 V253.51 M191.20,251.74 V253.54 M192.80,251.77 V253.57 M194.40,251.80 V253.60 M196.00,251.82 V253.62 M197.60,251.85 V253.65 M199.20,251.88 V253.68 M200.80,251.91 V253.71 M202.40,251.94 V253.74 M204.00,251.96 V253.76 M205.60,251.99 V253.79 " stroke="#2c2cc4" fill="none" stroke-width="0.35" />
<path d="M198.2,247.9 L224.6,247.9 " stroke="#d83030" fill="none" stroke-width="0.7" />
<path d="M199.20,247.3 V248.5 M201.50,247.3 V248.5 M203.80,247.3 V248.5 M206.10,247.3 V248.5 M208.40,247.3 V248.5 M210.70,247.3 V248.5 M213.00,247.3 V248.5 M215.30,247.3 V248.5 M217.60,247.3 V248.5 M219.90,247.3 V248.5 M222.20,247.3 V248.5 " stroke="#d83030" fill="none" stroke-width="0.25" opacity="0.6"/>
<path d="M173,224.7 H174.75 V226.25 H176.50 V227.80 H177.80 V229.60 H179.10 V231.40 H180.40 V233.20 H181.93 V234.23 H183.47 V235.27 H185.00 V236.30 H186.57 V237.33 H188.13 V238.37 H189.70 V239.40 H191.00 V239.90 H192.30 V240.40 H193.60 V240.90 H195.90 V243.30 H197.50 V247.10 H198.20 V247.90" stroke="#d83030" fill="none" stroke-width="1.0" stroke-linejoin="round"/>
<path d="M173.70,224.42 V226.22 M175.30,225.84 V227.64 M177.20,227.87 V229.67 M178.80,230.08 V231.88 M180.40,232.30 V234.10 M181.10,232.77 V234.57 M182.70,233.85 V235.65 M184.30,234.93 V236.73 M185.70,235.86 V237.66 M187.30,236.92 V238.72 M188.90,237.97 V239.77 M190.40,238.77 V240.57 M192.00,239.38 V241.18 M193.60,240.00 V241.80 M194.30,240.73 V242.53 M195.90,242.40 V244.20 M196.60,244.06 V245.86 " stroke="#d83030" fill="none" stroke-width="0.35" />
<text x="173.5" y="260.2" font-size="2.9" fill="#000" text-anchor="start" font-weight="normal" stroke="#000" stroke-width="0.12">p&lt;0.001</text>
<text x="239.4" y="218.3" font-size="8.5" fill="#000" font-weight="bold">H</text>
<text x="285.1" y="219.2" font-size="2.3" fill="#111" stroke="#111" stroke-width="0.07" text-anchor="middle" textLength="30" lengthAdjust="spacingAndGlyphs">Mast cells activated_XCELL</text>
<line x1="251.5" y1="224.2" x2="251.5" y2="270.5" stroke="#888" stroke-width="0.6" />
<line x1="251.5" y1="270.5" x2="313.6" y2="270.5" stroke="#888" stroke-width="0.6" />
<line x1="250.7" y1="225.2" x2="251.6" y2="225.2" stroke="#777" stroke-width="0.35" />
<text x="250.29999999999998" y="225.95" font-size="2.0" fill="#111" text-anchor="end" font-weight="normal"  stroke="#111" stroke-width="0.1">1.00</text>
<line x1="250.7" y1="236.14999999999998" x2="251.6" y2="236.14999999999998" stroke="#777" stroke-width="0.35" />
<text x="250.29999999999998" y="236.89999999999998" font-size="2.0" fill="#111" text-anchor="end" font-weight="normal"  stroke="#111" stroke-width="0.1">0.75</text>
<line x1="250.7" y1="247.1" x2="251.6" y2="247.1" stroke="#777" stroke-width="0.35" />
<text x="250.29999999999998" y="247.85" font-size="2.0" fill="#111" text-anchor="end" font-weight="normal"  stroke="#111" stroke-width="0.1">0.50</text>
<line x1="250.7" y1="258.04999999999995" x2="251.6" y2="258.04999999999995" stroke="#777" stroke-width="0.35" />
<text x="250.29999999999998" y="258.79999999999995" font-size="2.0" fill="#111" text-anchor="end" font-weight="normal"  stroke="#111" stroke-width="0.1">0.25</text>
<line x1="250.7" y1="269.0" x2="251.6" y2="269.0" stroke="#777" stroke-width="0.35" />
<text x="250.29999999999998" y="269.75" font-size="2.0" fill="#111" text-anchor="end" font-weight="normal"  stroke="#111" stroke-width="0.1">0.00</text>
<line x1="254.6" y1="270.5" x2="254.6" y2="271.3" stroke="#777" stroke-width="0.35" />
<text x="254.6" y="273.1" font-size="1.9" fill="#111" text-anchor="middle" font-weight="normal" stroke="#111" stroke-width="0.08">0</text>
<line x1="257.53" y1="270.5" x2="257.53" y2="271.3" stroke="#777" stroke-width="0.35" />
<text x="257.53" y="273.1" font-size="1.9" fill="#111" text-anchor="middle" font-weight="normal" stroke="#111" stroke-width="0.08">1</text>
<line x1="260.46" y1="270.5" x2="260.46" y2="271.3" stroke="#777" stroke-width="0.35" />
<text x="260.46" y="273.1" font-size="1.9" fill="#111" text-anchor="middle" font-weight="normal" stroke="#111" stroke-width="0.08">2</text>
<line x1="263.39" y1="270.5" x2="263.39" y2="271.3" stroke="#777" stroke-width="0.35" />
<text x="263.39" y="273.1" font-size="1.9" fill="#111" text-anchor="middle" font-weight="normal" stroke="#111" stroke-width="0.08">3</text>
<line x1="266.32" y1="270.5" x2="266.32" y2="271.3" stroke="#777" stroke-width="0.35" />
<text x="266.32" y="273.1" font-size="1.9" fill="#111" text-anchor="middle" font-weight="normal" stroke="#111" stroke-width="0.08">4</text>
<line x1="269.25" y1="270.5" x2="269.25" y2="271.3" stroke="#777" stroke-width="0.35" />
<text x="269.25" y="273.1" font-size="1.9" fill="#111" text-anchor="middle" font-weight="normal" stroke="#111" stroke-width="0.08">5</text>
<line x1="272.18" y1="270.5" x2="272.18" y2="271.3" stroke="#777" stroke-width="0.35" />
<text x="272.18" y="273.1" font-size="1.9" fill="#111" text-anchor="middle" font-weight="normal" stroke="#111" stroke-width="0.08">6</text>
<line x1="275.11" y1="270.5" x2="275.11" y2="271.3" stroke="#777" stroke-width="0.35" />
<text x="275.11" y="273.1" font-size="1.9" fill="#111" text-anchor="middle" font-weight="normal" stroke="#111" stroke-width="0.08">7</text>
<line x1="278.04" y1="270.5" x2="278.04" y2="271.3" stroke="#777" stroke-width="0.35" />
<text x="278.04" y="273.1" font-size="1.9" fill="#111" text-anchor="middle" font-weight="normal" stroke="#111" stroke-width="0.08">8</text>
<line x1="280.96999999999997" y1="270.5" x2="280.96999999999997" y2="271.3" stroke="#777" stroke-width="0.35" />
<text x="280.96999999999997" y="273.1" font-size="1.9" fill="#111" text-anchor="middle" font-weight="normal" stroke="#111" stroke-width="0.08">9</text>
<line x1="283.9" y1="270.5" x2="283.9" y2="271.3" stroke="#777" stroke-width="0.35" />
<text x="283.9" y="273.1" font-size="1.9" fill="#111" text-anchor="middle" font-weight="normal" stroke="#111" stroke-width="0.08">10</text>
<line x1="286.83" y1="270.5" x2="286.83" y2="271.3" stroke="#777" stroke-width="0.35" />
<text x="286.83" y="273.1" font-size="1.9" fill="#111" text-anchor="middle" font-weight="normal" stroke="#111" stroke-width="0.08">11</text>
<line x1="289.76" y1="270.5" x2="289.76" y2="271.3" stroke="#777" stroke-width="0.35" />
<text x="289.76" y="273.1" font-size="1.9" fill="#111" text-anchor="middle" font-weight="normal" stroke="#111" stroke-width="0.08">12</text>
<line x1="292.69" y1="270.5" x2="292.69" y2="271.3" stroke="#777" stroke-width="0.35" />
<text x="292.69" y="273.1" font-size="1.9" fill="#111" text-anchor="middle" font-weight="normal" stroke="#111" stroke-width="0.08">13</text>
<line x1="295.62" y1="270.5" x2="295.62" y2="271.3" stroke="#777" stroke-width="0.35" />
<text x="295.62" y="273.1" font-size="1.9" fill="#111" text-anchor="middle" font-weight="normal" stroke="#111" stroke-width="0.08">14</text>
<line x1="298.55" y1="270.5" x2="298.55" y2="271.3" stroke="#777" stroke-width="0.35" />
<text x="298.55" y="273.1" font-size="1.9" fill="#111" text-anchor="middle" font-weight="normal" stroke="#111" stroke-width="0.08">15</text>
<line x1="301.48" y1="270.5" x2="301.48" y2="271.3" stroke="#777" stroke-width="0.35" />
<text x="301.48" y="273.1" font-size="1.9" fill="#111" text-anchor="middle" font-weight="normal" stroke="#111" stroke-width="0.08">16</text>
<line x1="304.40999999999997" y1="270.5" x2="304.40999999999997" y2="271.3" stroke="#777" stroke-width="0.35" />
<text x="304.40999999999997" y="273.1" font-size="1.9" fill="#111" text-anchor="middle" font-weight="normal" stroke="#111" stroke-width="0.08">17</text>
<line x1="307.34" y1="270.5" x2="307.34" y2="271.3" stroke="#777" stroke-width="0.35" />
<text x="307.34" y="273.1" font-size="1.9" fill="#111" text-anchor="middle" font-weight="normal" stroke="#111" stroke-width="0.08">18</text>
<line x1="310.27" y1="270.5" x2="310.27" y2="271.3" stroke="#777" stroke-width="0.35" />
<text x="310.27" y="273.1" font-size="1.9" fill="#111" text-anchor="middle" font-weight="normal" stroke="#111" stroke-width="0.08">19</text>
<line x1="313.2" y1="270.5" x2="313.2" y2="271.3" stroke="#777" stroke-width="0.35" />
<text x="313.2" y="273.1" font-size="1.9" fill="#111" text-anchor="middle" font-weight="normal" stroke="#111" stroke-width="0.08">20</text>
<text x="282.6" y="275.3" font-size="2.2" fill="#111" text-anchor="middle" font-weight="normal"  stroke="#111" stroke-width="0.1">Time(years)</text>
<text x="244.0" y="247.1" font-size="2.3" fill="#111" text-anchor="middle" font-weight="normal" transform="rotate(-90 244.0 247.1)"  stroke="#111" stroke-width="0.1">Survival probability</text>
<path d="M251.6,247.1 H279.2 M263.2,247.1 V270.5 M279.2,247.1 V270.5" stroke="#aaa" fill="none" stroke-width="0.4" />
<path d="M267.4,252.6 L279,252.6 M279.8,256.4 L293,256.4 " stroke="#d83030" fill="none" stroke-width="0.7" />
<path d="M268.40,252.0 V253.2 M270.70,252.0 V253.2 M273.00,252.0 V253.2 M275.30,252.0 V253.2 M277.60,252.0 V253.2 M280.80,255.79999999999998 V257.0 M283.10,255.79999999999998 V257.0 M285.40,255.79999999999998 V257.0 M287.70,255.79999999999998 V257.0 M290.00,255.79999999999998 V257.0 M292.30,255.79999999999998 V257.0 " stroke="#d83030" fill="none" stroke-width="0.25" opacity="0.6"/>
<path d="M255,225.4 H257.30 V230.90 H259.60 V238.60 H261.15 V242.85 H262.70 V247.10 H265.00 V251.00 H267.40 V252.60" stroke="#d83030" fill="none" stroke-width="1.0" stroke-linejoin="round"/>
<path d="M255.70,226.17 V227.97 M258.00,232.34 V234.14 M260.30,239.62 V241.42 M261.90,244.01 V245.81 M263.40,247.39 V249.19 M265.70,250.57 V252.37 M267.30,251.63 V253.43 " stroke="#d83030" fill="none" stroke-width="0.35" />
<path d="M279,252.6 H279.80 V256.40" stroke="#d83030" fill="none" stroke-width="1.0" stroke-linejoin="round"/>
<path d="M280.6,248.7 L286.8,248.7 M287.5,251 L306.9,251 " stroke="#2c2cc4" fill="none" stroke-width="0.7" />
<path d="M281.60,248.1 V249.29999999999998 M283.90,248.1 V249.29999999999998 M286.20,248.1 V249.29999999999998 M288.50,250.4 V251.6 M290.80,250.4 V251.6 M293.10,250.4 V251.6 M295.40,250.4 V251.6 M297.70,250.4 V251.6 M300.00,250.4 V251.6 M302.30,250.4 V251.6 M304.60,250.4 V251.6 " stroke="#2c2cc4" fill="none" stroke-width="0.25" opacity="0.6"/>
<path d="M255,225.4 H256.95 V226.95 H258.90 V228.50 H260.80 V231.25 H262.70 V234.00 H264.27 V234.77 H265.83 V235.53 H267.40 V236.30 H268.95 V237.45 H270.50 V238.60 H272.05 V239.75 H273.60 V240.90 H275.15 V242.10 H276.70 V243.30 H278.20 V246.40 H280.60 V248.70" stroke="#2c2cc4" fill="none" stroke-width="1.0" stroke-linejoin="round"/>
<path d="M255.70,225.06 V226.86 M257.30,226.33 V228.13 M259.60,228.61 V230.41 M261.20,230.93 V232.73 M263.40,233.44 V235.24 M265.00,234.23 V236.03 M266.60,235.01 V236.81 M268.10,235.92 V237.72 M269.70,237.11 V238.91 M271.20,238.22 V240.02 M272.80,239.41 V241.21 M274.30,240.54 V242.34 M275.90,241.78 V243.58 M278.90,246.17 V247.97 M280.50,247.70 V249.50 " stroke="#2c2cc4" fill="none" stroke-width="0.35" />
<path d="M286.8,248.7 H287.50 V251.00" stroke="#2c2cc4" fill="none" stroke-width="1.0" stroke-linejoin="round"/>
<text x="254.79999999999998" y="260.7" font-size="2.9" fill="#000" text-anchor="start" font-weight="normal" stroke="#000" stroke-width="0.12">p&lt;0.001</text>
<text x="322.4" y="219.6" font-size="8.5" fill="#000" font-weight="bold">I</text>
<text x="367.1" y="219.2" font-size="2.3" fill="#111" stroke="#111" stroke-width="0.07" text-anchor="middle" textLength="31" lengthAdjust="spacingAndGlyphs">Macrophage M0_CIBERSORT</text>
<line x1="333.5" y1="224.2" x2="333.5" y2="270.5" stroke="#888" stroke-width="0.6" />
<line x1="333.5" y1="270.5" x2="395.6" y2="270.5" stroke="#888" stroke-width="0.6" />
<line x1="332.70000000000005" y1="225.2" x2="333.6" y2="225.2" stroke="#777" stroke-width="0.35" />
<text x="332.3" y="225.95" font-size="2.0" fill="#111" text-anchor="end" font-weight="normal"  stroke="#111" stroke-width="0.1">1.00</text>
<line x1="332.70000000000005" y1="236.14999999999998" x2="333.6" y2="236.14999999999998" stroke="#777" stroke-width="0.35" />
<text x="332.3" y="236.89999999999998" font-size="2.0" fill="#111" text-anchor="end" font-weight="normal"  stroke="#111" stroke-width="0.1">0.75</text>
<line x1="332.70000000000005" y1="247.1" x2="333.6" y2="247.1" stroke="#777" stroke-width="0.35" />
<text x="332.3" y="247.85" font-size="2.0" fill="#111" text-anchor="end" font-weight="normal"  stroke="#111" stroke-width="0.1">0.50</text>
<line x1="332.70000000000005" y1="258.04999999999995" x2="333.6" y2="258.04999999999995" stroke="#777" stroke-width="0.35" />
<text x="332.3" y="258.79999999999995" font-size="2.0" fill="#111" text-anchor="end" font-weight="normal"  stroke="#111" stroke-width="0.1">0.25</text>
<line x1="332.70000000000005" y1="269.0" x2="333.6" y2="269.0" stroke="#777" stroke-width="0.35" />
<text x="332.3" y="269.75" font-size="2.0" fill="#111" text-anchor="end" font-weight="normal"  stroke="#111" stroke-width="0.1">0.00</text>
<line x1="336.6" y1="270.5" x2="336.6" y2="271.3" stroke="#777" stroke-width="0.35" />
<text x="336.6" y="273.1" font-size="1.9" fill="#111" text-anchor="middle" font-weight="normal" stroke="#111" stroke-width="0.08">0</text>
<line x1="339.53000000000003" y1="270.5" x2="339.53000000000003" y2="271.3" stroke="#777" stroke-width="0.35" />
<text x="339.53000000000003" y="273.1" font-size="1.9" fill="#111" text-anchor="middle" font-weight="normal" stroke="#111" stroke-width="0.08">1</text>
<line x1="342.46000000000004" y1="270.5" x2="342.46000000000004" y2="271.3" stroke="#777" stroke-width="0.35" />
<text x="342.46000000000004" y="273.1" font-size="1.9" fill="#111" text-anchor="middle" font-weight="normal" stroke="#111" stroke-width="0.08">2</text>
<line x1="345.39000000000004" y1="270.5" x2="345.39000000000004" y2="271.3" stroke="#777" stroke-width="0.35" />
<text x="345.39000000000004" y="273.1" font-size="1.9" fill="#111" text-anchor="middle" font-weight="normal" stroke="#111" stroke-width="0.08">3</text>
<line x1="348.32000000000005" y1="270.5" x2="348.32000000000005" y2="271.3" stroke="#777" stroke-width="0.35" />
<text x="348.32000000000005" y="273.1" font-size="1.9" fill="#111" text-anchor="middle" font-weight="normal" stroke="#111" stroke-width="0.08">4</text>
<line x1="351.25" y1="270.5" x2="351.25" y2="271.3" stroke="#777" stroke-width="0.35" />
<text x="351.25" y="273.1" font-size="1.9" fill="#111" text-anchor="middle" font-weight="normal" stroke="#111" stroke-width="0.08">5</text>
<line x1="354.18" y1="270.5" x2="354.18" y2="271.3" stroke="#777" stroke-width="0.35" />
<text x="354.18" y="273.1" font-size="1.9" fill="#111" text-anchor="middle" font-weight="normal" stroke="#111" stroke-width="0.08">6</text>
<line x1="357.11" y1="270.5" x2="357.11" y2="271.3" stroke="#777" stroke-width="0.35" />
<text x="357.11" y="273.1" font-size="1.9" fill="#111" text-anchor="middle" font-weight="normal" stroke="#111" stroke-width="0.08">7</text>
<line x1="360.04" y1="270.5" x2="360.04" y2="271.3" stroke="#777" stroke-width="0.35" />
<text x="360.04" y="273.1" font-size="1.9" fill="#111" text-anchor="middle" font-weight="normal" stroke="#111" stroke-width="0.08">8</text>
<line x1="362.97" y1="270.5" x2="362.97" y2="271.3" stroke="#777" stroke-width="0.35" />
<text x="362.97" y="273.1" font-size="1.9" fill="#111" text-anchor="middle" font-weight="normal" stroke="#111" stroke-width="0.08">9</text>
<line x1="365.90000000000003" y1="270.5" x2="365.90000000000003" y2="271.3" stroke="#777" stroke-width="0.35" />
<text x="365.90000000000003" y="273.1" font-size="1.9" fill="#111" text-anchor="middle" font-weight="normal" stroke="#111" stroke-width="0.08">10</text>
<line x1="368.83000000000004" y1="270.5" x2="368.83000000000004" y2="271.3" stroke="#777" stroke-width="0.35" />
<text x="368.83000000000004" y="273.1" font-size="1.9" fill="#111" text-anchor="middle" font-weight="normal" stroke="#111" stroke-width="0.08">11</text>
<line x1="371.76000000000005" y1="270.5" x2="371.76000000000005" y2="271.3" stroke="#777" stroke-width="0.35" />
<text x="371.76000000000005" y="273.1" font-size="1.9" fill="#111" text-anchor="middle" font-weight="normal" stroke="#111" stroke-width="0.08">12</text>
<line x1="374.69000000000005" y1="270.5" x2="374.69000000000005" y2="271.3" stroke="#777" stroke-width="0.35" />
<text x="374.69000000000005" y="273.1" font-size="1.9" fill="#111" text-anchor="middle" font-weight="normal" stroke="#111" stroke-width="0.08">13</text>
<line x1="377.62" y1="270.5" x2="377.62" y2="271.3" stroke="#777" stroke-width="0.35" />
<text x="377.62" y="273.1" font-size="1.9" fill="#111" text-anchor="middle" font-weight="normal" stroke="#111" stroke-width="0.08">14</text>
<line x1="380.55" y1="270.5" x2="380.55" y2="271.3" stroke="#777" stroke-width="0.35" />
<text x="380.55" y="273.1" font-size="1.9" fill="#111" text-anchor="middle" font-weight="normal" stroke="#111" stroke-width="0.08">15</text>
<line x1="383.48" y1="270.5" x2="383.48" y2="271.3" stroke="#777" stroke-width="0.35" />
<text x="383.48" y="273.1" font-size="1.9" fill="#111" text-anchor="middle" font-weight="normal" stroke="#111" stroke-width="0.08">16</text>
<line x1="386.41" y1="270.5" x2="386.41" y2="271.3" stroke="#777" stroke-width="0.35" />
<text x="386.41" y="273.1" font-size="1.9" fill="#111" text-anchor="middle" font-weight="normal" stroke="#111" stroke-width="0.08">17</text>
<line x1="389.34000000000003" y1="270.5" x2="389.34000000000003" y2="271.3" stroke="#777" stroke-width="0.35" />
<text x="389.34000000000003" y="273.1" font-size="1.9" fill="#111" text-anchor="middle" font-weight="normal" stroke="#111" stroke-width="0.08">18</text>
<line x1="392.27000000000004" y1="270.5" x2="392.27000000000004" y2="271.3" stroke="#777" stroke-width="0.35" />
<text x="392.27000000000004" y="273.1" font-size="1.9" fill="#111" text-anchor="middle" font-weight="normal" stroke="#111" stroke-width="0.08">19</text>
<line x1="395.20000000000005" y1="270.5" x2="395.20000000000005" y2="271.3" stroke="#777" stroke-width="0.35" />
<text x="395.20000000000005" y="273.1" font-size="1.9" fill="#111" text-anchor="middle" font-weight="normal" stroke="#111" stroke-width="0.08">20</text>
<text x="364.6" y="275.3" font-size="2.2" fill="#111" text-anchor="middle" font-weight="normal"  stroke="#111" stroke-width="0.1">Time(years)</text>
<text x="326.0" y="247.1" font-size="2.3" fill="#111" text-anchor="middle" font-weight="normal" transform="rotate(-90 326.0 247.1)"  stroke="#111" stroke-width="0.1">Survival probability</text>
<path d="M333.6,246.4 H369.5 M347.8,246.4 V270.5 M369.5,246.4 V270.5" stroke="#aaa" fill="none" stroke-width="0.4" />
<path d="M353.3,252.6 L361,252.6 M361.8,256.4 L388.9,256.4 " stroke="#2c2cc4" fill="none" stroke-width="0.7" />
<path d="M354.30,252.0 V253.2 M356.60,252.0 V253.2 M358.90,252.0 V253.2 M362.80,255.79999999999998 V257.0 M365.10,255.79999999999998 V257.0 M367.40,255.79999999999998 V257.0 M369.70,255.79999999999998 V257.0 M372.00,255.79999999999998 V257.0 M374.30,255.79999999999998 V257.0 M376.60,255.79999999999998 V257.0 M378.90,255.79999999999998 V257.0 M381.20,255.79999999999998 V257.0 M383.50,255.79999999999998 V257.0 M385.80,255.79999999999998 V257.0 M388.10,255.79999999999998 V257.0 " stroke="#2c2cc4" fill="none" stroke-width="0.25" opacity="0.6"/>
<path d="M336.5,225 H337.90 V227.15 H339.30 V229.30 H340.85 V232.40 H342.40 V235.50 H343.95 V239.40 H345.50 V243.30 H347.80 V247.10 H349.75 V247.50 H351.70 V247.90 H353.30 V252.60" stroke="#2c2cc4" fill="none" stroke-width="1.0" stroke-linejoin="round"/>
<path d="M337.20,225.17 V226.97 M338.80,227.63 V229.43 M340.00,229.80 V231.60 M341.60,233.00 V234.80 M343.10,236.36 V238.16 M344.70,240.39 V242.19 M346.20,243.56 V245.36 M348.50,246.34 V248.14 M350.10,246.67 V248.47 M352.40,249.06 V250.86 " stroke="#2c2cc4" fill="none" stroke-width="0.35" />
<path d="M361,252.6 H361.80 V256.40" stroke="#2c2cc4" fill="none" stroke-width="1.0" stroke-linejoin="round"/>
<path d="M369.5,249.5 L388.9,249.5 " stroke="#d83030" fill="none" stroke-width="0.7" />
<path d="M370.50,248.9 V250.1 M372.80,248.9 V250.1 M375.10,248.9 V250.1 M377.40,248.9 V250.1 M379.70,248.9 V250.1 M382.00,248.9 V250.1 M384.30,248.9 V250.1 M386.60,248.9 V250.1 " stroke="#d83030" fill="none" stroke-width="0.25" opacity="0.6"/>
<path d="M336.5,225 H337.97 V226.17 H339.43 V227.33 H340.90 V228.50 H342.80 V230.85 H344.70 V233.20 H346.00 V233.97 H347.30 V234.73 H348.60 V235.50 H350.55 V236.30 H352.50 V237.10 H354.45 V237.85 H356.40 V238.60 H357.95 V239.40 H359.50 V240.20 H360.20 V244.80 H361.63 V244.93 H363.07 V245.07 H364.50 V245.20 H365.93 V245.33 H367.37 V245.47 H368.80 V245.60 H369.50 V249.50" stroke="#d83030" fill="none" stroke-width="1.0" stroke-linejoin="round"/>
<path d="M337.20,224.66 V226.46 M338.80,225.93 V227.73 M340.40,227.20 V229.00 M341.60,228.47 V230.27 M343.20,230.44 V232.24 M345.40,232.71 V234.51 M347.00,233.66 V235.46 M349.30,234.89 V236.69 M350.90,235.54 V237.34 M353.20,236.47 V238.27 M354.80,237.08 V238.88 M357.10,238.06 V239.86 M358.70,238.89 V240.69 M360.90,243.97 V245.77 M362.50,244.11 V245.91 M364.10,244.26 V246.06 M365.70,244.41 V246.21 M367.30,244.56 V246.36 " stroke="#d83030" fill="none" stroke-width="0.35" />
<text x="336.8" y="260.7" font-size="2.9" fill="#000" text-anchor="start" font-weight="normal" stroke="#000" stroke-width="0.12">p&lt;0.001</text>
<text x="1.2" y="306.6" font-size="8.5" fill="#000" font-weight="bold">J</text>
<line x1="43.5" y1="311.0" x2="43.5" y2="385.5" stroke="#666" stroke-width="0.8" />
<line x1="43.5" y1="385.5" x2="146.3" y2="385.5" stroke="#666" stroke-width="0.8" />
<line x1="42.8" y1="313.6" x2="43.8" y2="313.6" stroke="#555" stroke-width="0.4" />
<text x="42.5" y="314.6" font-size="2.8" fill="#111" text-anchor="end" font-weight="normal"  stroke="#111" stroke-width="0.1">0.4</text>
<line x1="42.8" y1="327.2" x2="43.8" y2="327.2" stroke="#555" stroke-width="0.4" />
<text x="42.5" y="328.2" font-size="2.8" fill="#111" text-anchor="end" font-weight="normal"  stroke="#111" stroke-width="0.1">0.2</text>
<line x1="42.8" y1="340.7" x2="43.8" y2="340.7" stroke="#555" stroke-width="0.4" />
<text x="42.5" y="341.7" font-size="2.8" fill="#111" text-anchor="end" font-weight="normal"  stroke="#111" stroke-width="0.1">0.0</text>
<line x1="42.8" y1="354.8" x2="43.8" y2="354.8" stroke="#555" stroke-width="0.4" />
<text x="42.5" y="355.8" font-size="2.8" fill="#111" text-anchor="end" font-weight="normal"  stroke="#111" stroke-width="0.1">-0.2</text>
<line x1="42.8" y1="368.8" x2="43.8" y2="368.8" stroke="#555" stroke-width="0.4" />
<text x="42.5" y="369.8" font-size="2.8" fill="#111" text-anchor="end" font-weight="normal"  stroke="#111" stroke-width="0.1">-0.4</text>
<line x1="42.8" y1="381.9" x2="43.8" y2="381.9" stroke="#555" stroke-width="0.4" />
<text x="42.5" y="382.9" font-size="2.8" fill="#111" text-anchor="end" font-weight="normal"  stroke="#111" stroke-width="0.1">-0.6</text>
<text x="34.2" y="348.5" font-size="3.5" fill="#111" text-anchor="middle" font-weight="normal" transform="rotate(-90 34.2 348.5)"  stroke="#111" stroke-width="0.1">TIDE</text>
<text x="72.8" y="305.0" font-size="2.9" fill="#111" text-anchor="start" font-weight="normal"  stroke="#111" stroke-width="0.1">Risk</text>
<rect x="80.7" y="301.2" width="5.3" height="4.5" fill="#2f55c0" stroke="none" stroke-width="0.5" rx="0.5"/>
<text x="87.2" y="305.0" font-size="2.7" fill="#111" text-anchor="start" font-weight="normal"  stroke="#111" stroke-width="0.1">Low risk</text>
<rect x="99.2" y="301.2" width="5.1" height="4.5" fill="#cc1c24" stroke="none" stroke-width="0.5" rx="0.5"/>
<text x="105.8" y="305.0" font-size="2.95" fill="#111" text-anchor="start" font-weight="normal"  stroke="#111" stroke-width="0.1">High risk</text>
<path d="M72.2,314 L71.90,314 L71.80,328 L71.40,334 L70.40,336 L68.70,338 L65.70,340 L58.20,342.5 L55.40,344.5 L54.50,346.3 L56.00,348 L58.70,350 L61.70,352 L63.90,354 L65.90,356.3 L67.90,360 L69.10,364 L69.70,368 L70.30,372 L71.20,377 L71.90,382 L72.50,382 L73.20,377 L74.10,372 L74.70,368 L75.30,364 L76.50,360 L78.50,356.3 L80.50,354 L82.70,352 L85.70,350 L88.40,348 L89.90,346.3 L89.00,344.5 L86.20,342.5 L78.70,340 L75.70,338 L74.00,336 L73.00,334 L72.60,328 L72.50,314 Z" stroke="#1a1a1a" fill="#1f62e8" stroke-width="0.5" stroke-linejoin="round"/>
<path d="M118.5,332.3 L118.30,332.3 L117.50,334 L115.50,336 L112.00,338 L107.50,340 L102.00,342 L98.00,343.5 L95.20,344.6 L97.50,346 L103.00,348 L106.50,350 L109.00,352 L111.70,355 L113.70,358 L115.30,362 L116.70,367 L117.50,372 L118.00,377 L118.30,381.6 L118.70,381.6 L119.00,377 L119.50,372 L120.30,367 L121.70,362 L123.30,358 L125.30,355 L128.00,352 L130.50,350 L134.00,348 L139.50,346 L141.80,344.6 L139.00,343.5 L135.00,342 L129.50,340 L125.00,338 L121.50,336 L119.50,334 L118.70,332.3 Z" stroke="#1a1a1a" fill="#ea1a1a" stroke-width="0.5" stroke-linejoin="round"/>
<rect x="67.6" y="344.6" width="7.9" height="9.7" fill="#fff" stroke="#333" stroke-width="0.35" />
<line x1="67.6" y1="348.1" x2="75.5" y2="348.1" stroke="#3a4a90" stroke-width="0.8" />
<rect x="113.8" y="344.6" width="9.1" height="7.4" fill="#fff" stroke="#333" stroke-width="0.35" />
<line x1="113.8" y1="346.5" x2="122.9" y2="346.5" stroke="#904040" stroke-width="0.8" />
<line x1="72.5" y1="318.4" x2="118.4" y2="318.4" stroke="#777" stroke-width="0.35" />
<text x="95" y="317.2" font-size="2.4" fill="#222" text-anchor="middle" font-weight="normal"  stroke="#222" stroke-width="0.1">*</text>
<text x="71.8" y="389.4" font-size="3.5" fill="#111" text-anchor="middle" font-weight="normal"  stroke="#111" stroke-width="0.1">Low risk</text>
<text x="118.2" y="389.4" font-size="3.4" fill="#111" text-anchor="middle" font-weight="normal"  stroke="#111" stroke-width="0.1">High risk</text>
<text x="180.4" y="306.6" font-size="8.5" fill="#000" font-weight="bold">K</text>
<line x1="198.5" y1="303.5" x2="198.5" y2="378.5" stroke="#666" stroke-width="0.8" />
<line x1="198.5" y1="378.5" x2="367" y2="378.5" stroke="#666" stroke-width="0.8" />
<line x1="197.2" y1="321.7" x2="198.6" y2="321.7" stroke="#555" stroke-width="0.4" />
<text x="196.8" y="322.8" font-size="3.0" fill="#000" text-anchor="end" font-weight="normal" stroke="#000" stroke-width="0.15">7.5</text>
<line x1="197.2" y1="339.6" x2="198.6" y2="339.6" stroke="#555" stroke-width="0.4" />
<text x="196.8" y="340.70000000000005" font-size="3.0" fill="#000" text-anchor="end" font-weight="normal" stroke="#000" stroke-width="0.15">5.0</text>
<line x1="197.2" y1="357.6" x2="198.6" y2="357.6" stroke="#555" stroke-width="0.4" />
<text x="196.8" y="358.70000000000005" font-size="3.0" fill="#000" text-anchor="end" font-weight="normal" stroke="#000" stroke-width="0.15">2.5</text>
<line x1="197.2" y1="375.3" x2="198.6" y2="375.3" stroke="#555" stroke-width="0.4" />
<text x="196.8" y="376.40000000000003" font-size="3.0" fill="#000" text-anchor="end" font-weight="normal" stroke="#000" stroke-width="0.15">0.0</text>
<text x="189.4" y="341.8" font-size="3.8" fill="#000" text-anchor="middle" font-weight="normal" transform="rotate(-90 189.4 341.8)"  stroke="#000" stroke-width="0.1">Gene expression</text>
<text x="264.0" y="297.2" font-size="2.9" fill="#111" text-anchor="start" font-weight="normal"  stroke="#111" stroke-width="0.1">Risk</text>
<rect x="273.8" y="294.3" width="4.4" height="3.4" fill="#1f3f9f" stroke="none" stroke-width="0.5" rx="0.8"/>
<text x="280.6" y="297.2" font-size="2.8" fill="#111" text-anchor="start" font-weight="normal"  stroke="#111" stroke-width="0.1">low</text>
<rect x="287.6" y="294.3" width="4.8" height="3.4" fill="#a81c1c" stroke="none" stroke-width="0.5" rx="0.8"/>
<text x="294.8" y="297.2" font-size="2.8" fill="#111" text-anchor="start" font-weight="normal"  stroke="#111" stroke-width="0.1">high</text>
<line x1="204.5" y1="371" x2="204.5" y2="375.8" stroke="#777" stroke-width="0.7" />
<rect x="202.2" y="373.5" width="5.400000000000006" height="1.8999999999999773" fill="#2a6be8" stroke="#222" stroke-width="0.5" />
<line x1="202.2" y1="374.5" x2="207.6" y2="374.5" stroke="#111" stroke-width="0.6" />
<circle cx="204.5" cy="368" r="0.75" fill="#111"/>
<circle cx="204.5" cy="370" r="0.75" fill="#111"/>
<line x1="210.5" y1="371.5" x2="210.5" y2="375.8" stroke="#777" stroke-width="0.7" />
<rect x="207.6" y="373.8" width="5.400000000000006" height="1.599999999999966" fill="#e8202a" stroke="#222" stroke-width="0.5" />
<line x1="207.6" y1="374.6" x2="213.0" y2="374.6" stroke="#111" stroke-width="0.6" />
<circle cx="210.5" cy="369" r="0.75" fill="#111"/>
<circle cx="210.5" cy="370.5" r="0.75" fill="#111"/>
<text x="209.2" y="381.6" font-size="3.6" fill="#000" text-anchor="end" font-weight="normal" transform="rotate(-47 209.2 381.6)" stroke="#000" stroke-width="0.1">ADORA2A</text>
<line x1="221.5" y1="322" x2="221.5" y2="356.4" stroke="#777" stroke-width="0.7" />
<rect x="218.5" y="331.2" width="6.199999999999989" height="12.5" fill="#2a6be8" stroke="#333" stroke-width="0.3" />
<line x1="218.5" y1="337.4" x2="224.7" y2="337.4" stroke="#111" stroke-width="0.45" />
<circle cx="221.5" cy="361.8" r="0.75" fill="#111"/>
<line x1="227.5" y1="322" x2="227.5" y2="358" stroke="#777" stroke-width="0.7" />
<rect x="224.7" y="333.9" width="6.5" height="13.0" fill="#e8202a" stroke="#333" stroke-width="0.3" />
<line x1="224.7" y1="340.1" x2="231.2" y2="340.1" stroke="#111" stroke-width="0.45" />
<text x="226.29999999999998" y="381.6" font-size="3.6" fill="#000" text-anchor="end" font-weight="normal" transform="rotate(-47 226.29999999999998 381.6)" stroke="#000" stroke-width="0.1">LGALS9</text>
<line x1="237.5" y1="317" x2="237.5" y2="372.7" stroke="#777" stroke-width="0.7" />
<rect x="234.7" y="341.0" width="6.300000000000011" height="16.80000000000001" fill="#2a6be8" stroke="#333" stroke-width="0.3" />
<line x1="234.7" y1="348.3" x2="241.0" y2="348.3" stroke="#111" stroke-width="0.45" />
<line x1="244.5" y1="316" x2="244.5" y2="373" stroke="#777" stroke-width="0.7" />
<rect x="241.0" y="336.6" width="6.5" height="17.099999999999966" fill="#e8202a" stroke="#333" stroke-width="0.3" />
<line x1="241.0" y1="345.6" x2="247.5" y2="345.6" stroke="#111" stroke-width="0.45" />
<text x="242.6" y="381.6" font-size="3.6" fill="#000" text-anchor="end" font-weight="normal" transform="rotate(-47 242.6 381.6)" stroke="#000" stroke-width="0.1">TNFSF9</text>
<line x1="254.5" y1="366" x2="254.5" y2="375.6" stroke="#777" stroke-width="0.7" />
<rect x="251.0" y="370.8" width="6.199999999999989" height="3.8000000000000114" fill="#2a6be8" stroke="#333" stroke-width="0.3" />
<line x1="251.0" y1="372.6" x2="257.2" y2="372.6" stroke="#111" stroke-width="0.45" />
<circle cx="254.5" cy="360" r="0.75" fill="#111"/>
<circle cx="254.5" cy="362" r="0.75" fill="#111"/>
<circle cx="254.5" cy="364" r="0.75" fill="#111"/>
<line x1="260.5" y1="367" x2="260.5" y2="375.6" stroke="#777" stroke-width="0.7" />
<rect x="257.2" y="371.3" width="6.5" height="3.3000000000000114" fill="#e8202a" stroke="#333" stroke-width="0.3" />
<line x1="257.2" y1="373" x2="263.7" y2="373" stroke="#111" stroke-width="0.45" />
<circle cx="260.5" cy="362" r="0.75" fill="#111"/>
<circle cx="260.5" cy="365" r="0.75" fill="#111"/>
<text x="258.8" y="381.6" font-size="3.6" fill="#000" text-anchor="end" font-weight="normal" transform="rotate(-47 258.8 381.6)" stroke="#000" stroke-width="0.1">ICOSLG</text>
<line x1="270.5" y1="357" x2="270.5" y2="374.5" stroke="#777" stroke-width="0.7" />
<rect x="267.2" y="363.2" width="6.800000000000011" height="6.800000000000011" fill="#2a6be8" stroke="#333" stroke-width="0.3" />
<line x1="267.2" y1="366.6" x2="274.0" y2="366.6" stroke="#111" stroke-width="0.45" />
<circle cx="270.5" cy="347" r="0.75" fill="#111"/>
<circle cx="270.5" cy="349" r="0.75" fill="#111"/>
<circle cx="270.5" cy="351" r="0.75" fill="#111"/>
<circle cx="270.5" cy="353" r="0.75" fill="#111"/>
<line x1="277.5" y1="356" x2="277.5" y2="374.5" stroke="#777" stroke-width="0.7" />
<rect x="274.0" y="361.8" width="6.800000000000011" height="8.199999999999989" fill="#e8202a" stroke="#333" stroke-width="0.3" />
<line x1="274.0" y1="365.5" x2="280.8" y2="365.5" stroke="#111" stroke-width="0.45" />
<circle cx="277.5" cy="342" r="0.75" fill="#111"/>
<circle cx="277.5" cy="345" r="0.75" fill="#111"/>
<circle cx="277.5" cy="348" r="0.75" fill="#111"/>
<text x="275.6" y="381.6" font-size="3.6" fill="#000" text-anchor="end" font-weight="normal" transform="rotate(-47 275.6 381.6)" stroke="#000" stroke-width="0.1">TNFSF14</text>
<line x1="286.5" y1="342" x2="286.5" y2="372" stroke="#777" stroke-width="0.7" />
<rect x="283.5" y="352.4" width="6.199999999999989" height="9.600000000000023" fill="#2a6be8" stroke="#333" stroke-width="0.3" />
<line x1="283.5" y1="358.4" x2="289.7" y2="358.4" stroke="#111" stroke-width="0.45" />
<circle cx="286.5" cy="320" r="0.75" fill="#111"/>
<circle cx="286.5" cy="323" r="0.75" fill="#111"/>
<circle cx="286.5" cy="326" r="0.75" fill="#111"/>
<circle cx="286.5" cy="329" r="0.75" fill="#111"/>
<circle cx="286.5" cy="332" r="0.75" fill="#111"/>
<circle cx="286.5" cy="335" r="0.75" fill="#111"/>
<line x1="293.5" y1="346" x2="293.5" y2="373" stroke="#777" stroke-width="0.7" />
<rect x="290.5" y="355.4" width="6.899999999999977" height="9.0" fill="#e8202a" stroke="#333" stroke-width="0.3" />
<line x1="290.5" y1="360" x2="297.4" y2="360" stroke="#111" stroke-width="0.45" />
<circle cx="293.5" cy="337" r="0.75" fill="#111"/>
<circle cx="293.5" cy="340" r="0.75" fill="#111"/>
<text x="291.3" y="381.6" font-size="3.6" fill="#000" text-anchor="end" font-weight="normal" transform="rotate(-47 291.3 381.6)" stroke="#000" stroke-width="0.1">CD80</text>
<line x1="303.5" y1="350" x2="303.5" y2="373" stroke="#777" stroke-width="0.7" />
<rect x="300.4" y="359.0" width="6.600000000000023" height="7.5" fill="#2a6be8" stroke="#333" stroke-width="0.3" />
<line x1="300.4" y1="362.5" x2="307.0" y2="362.5" stroke="#111" stroke-width="0.45" />
<circle cx="303.5" cy="344" r="0.75" fill="#111"/>
<circle cx="303.5" cy="347" r="0.75" fill="#111"/>
<line x1="310.5" y1="346" x2="310.5" y2="374" stroke="#777" stroke-width="0.7" />
<rect x="307.0" y="360.5" width="6.600000000000023" height="9.0" fill="#e8202a" stroke="#333" stroke-width="0.3" />
<line x1="307.0" y1="365" x2="313.6" y2="365" stroke="#111" stroke-width="0.45" />
<circle cx="310.5" cy="343" r="0.75" fill="#111"/>
<circle cx="310.5" cy="346" r="0.75" fill="#111"/>
<text x="308.6" y="381.6" font-size="3.6" fill="#000" text-anchor="end" font-weight="normal" transform="rotate(-47 308.6 381.6)" stroke="#000" stroke-width="0.1">TNFSF15</text>
<line x1="320.5" y1="315.5" x2="320.5" y2="375.5" stroke="#777" stroke-width="0.7" />
<rect x="316.6" y="335.6" width="6.899999999999977" height="26.399999999999977" fill="#2a6be8" stroke="#333" stroke-width="0.3" />
<line x1="316.6" y1="348.5" x2="323.5" y2="348.5" stroke="#111" stroke-width="0.45" />
<line x1="326.5" y1="312.5" x2="326.5" y2="375.5" stroke="#777" stroke-width="0.7" />
<rect x="323.5" y="345.5" width="6.899999999999977" height="25.5" fill="#e8202a" stroke="#333" stroke-width="0.3" />
<line x1="323.5" y1="362.0" x2="330.4" y2="362.0" stroke="#111" stroke-width="0.45" />
<text x="325.1" y="381.6" font-size="3.6" fill="#000" text-anchor="end" font-weight="normal" transform="rotate(-47 325.1 381.6)" stroke="#000" stroke-width="0.1">VTCN1</text>
<line x1="336.5" y1="367" x2="336.5" y2="376" stroke="#777" stroke-width="0.7" />
<rect x="333.4" y="372.5" width="6.600000000000023" height="3.0" fill="#2a6be8" stroke="#333" stroke-width="0.3" />
<line x1="333.4" y1="374.5" x2="340.0" y2="374.5" stroke="#111" stroke-width="0.45" />
<circle cx="336.5" cy="342" r="0.75" fill="#111"/>
<circle cx="336.5" cy="354" r="0.75" fill="#111"/>
<circle cx="336.5" cy="357" r="0.75" fill="#111"/>
<circle cx="336.5" cy="360" r="0.75" fill="#111"/>
<circle cx="336.5" cy="363" r="0.75" fill="#111"/>
<circle cx="336.5" cy="365" r="0.75" fill="#111"/>
<line x1="343.5" y1="364" x2="343.5" y2="376" stroke="#777" stroke-width="0.7" />
<rect x="340.0" y="371.6" width="6.600000000000023" height="3.8999999999999773" fill="#e8202a" stroke="#333" stroke-width="0.3" />
<line x1="340.0" y1="374" x2="346.6" y2="374" stroke="#111" stroke-width="0.45" />
<circle cx="343.5" cy="334" r="0.75" fill="#111"/>
<circle cx="343.5" cy="355" r="0.75" fill="#111"/>
<circle cx="343.5" cy="358" r="0.75" fill="#111"/>
<circle cx="343.5" cy="361" r="0.75" fill="#111"/>
<text x="341.6" y="381.6" font-size="3.6" fill="#000" text-anchor="end" font-weight="normal" transform="rotate(-47 341.6 381.6)" stroke="#000" stroke-width="0.1">KIR3DL1</text>
<line x1="353.5" y1="314.0" x2="353.5" y2="363.5" stroke="#777" stroke-width="0.7" />
<rect x="349.6" y="329.0" width="6.899999999999977" height="14.399999999999977" fill="#2a6be8" stroke="#333" stroke-width="0.3" />
<line x1="349.6" y1="334.4" x2="356.5" y2="334.4" stroke="#111" stroke-width="0.45" />
<circle cx="353.5" cy="366.5" r="0.75" fill="#111"/>
<line x1="359.5" y1="318" x2="359.5" y2="361" stroke="#777" stroke-width="0.7" />
<rect x="356.5" y="333.0" width="6.899999999999977" height="15.5" fill="#e8202a" stroke="#333" stroke-width="0.3" />
<line x1="356.5" y1="342.5" x2="363.4" y2="342.5" stroke="#111" stroke-width="0.45" />
<circle cx="359.5" cy="308" r="0.75" fill="#111"/>
<text x="358.1" y="381.6" font-size="3.6" fill="#000" text-anchor="end" font-weight="normal" transform="rotate(-47 358.1 381.6)" stroke="#000" stroke-width="0.1">TNFRSF18</text>
<text x="208.4" y="307" font-size="2.3" fill="#222" text-anchor="middle" font-weight="normal"  stroke="#222" stroke-width="0.1">*</text>
<text x="224.7" y="307" font-size="2.3" fill="#222" text-anchor="middle" font-weight="normal"  stroke="#222" stroke-width="0.1">**</text>
<text x="241.5" y="307" font-size="2.3" fill="#222" text-anchor="middle" font-weight="normal"  stroke="#222" stroke-width="0.1"></text>
<text x="257.7" y="307" font-size="2.3" fill="#222" text-anchor="middle" font-weight="normal"  stroke="#222" stroke-width="0.1">**</text>
<text x="274.6" y="307" font-size="2.3" fill="#222" text-anchor="middle" font-weight="normal"  stroke="#222" stroke-width="0.1">*</text>
<text x="290.5" y="307" font-size="2.3" fill="#222" text-anchor="middle" font-weight="normal"  stroke="#222" stroke-width="0.1">**</text>
<text x="307" y="307" font-size="2.3" fill="#222" text-anchor="middle" font-weight="normal"  stroke="#222" stroke-width="0.1">*</text>
<text x="323.5" y="307" font-size="2.3" fill="#222" text-anchor="middle" font-weight="normal"  stroke="#222" stroke-width="0.1">****</text>
<text x="340" y="307" font-size="2.3" fill="#222" text-anchor="middle" font-weight="normal"  stroke="#222" stroke-width="0.1">*</text>
<text x="356.5" y="307" font-size="2.3" fill="#222" text-anchor="middle" font-weight="normal"  stroke="#222" stroke-width="0.1">***</text>
</svg></body></html>
